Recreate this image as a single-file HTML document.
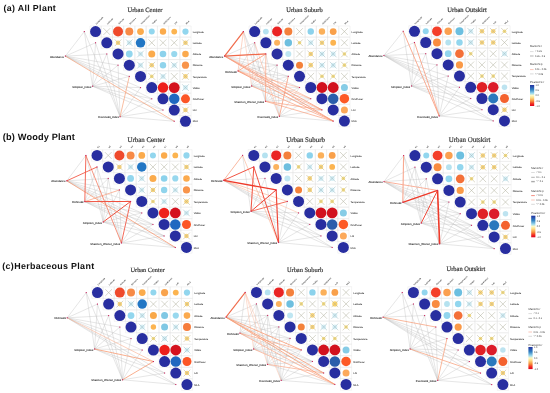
<!DOCTYPE html>
<html><head><meta charset="utf-8"><title>Mantel test correlation heatmaps</title>
<style>
html,body{margin:0;padding:0;background:#fff;}
body{width:550px;height:393px;overflow:hidden;}
svg{display:block;}
text{font-family:"Liberation Sans",Arial,sans-serif;fill:#222;text-rendering:geometricPrecision;}
.nl{font-size:2.8px;text-anchor:end;fill:#222;stroke:#444;stroke-width:0.08px;}
.rl{font-size:2.5px;fill:#333;stroke:#555;stroke-width:0.06px;}
.cl{font-size:2.05px;fill:#505050;font-weight:bold;}
.lg{font-size:2.4px;fill:#444;}
.lgt{font-size:2.8px;fill:#333;}
.tt{font-family:"Liberation Serif","Times New Roman",serif;fill:#333;stroke:#333;stroke-width:0.18px;}
.hd{font-weight:bold;fill:#111;}
</style></head><body>
<svg width="550" height="393" viewBox="0 0 550 393">
<defs><linearGradient id="cb" x1="0" y1="0" x2="0" y2="1">
<stop offset="0" stop-color="#2232a0"/><stop offset="0.22" stop-color="#3282c2"/><stop offset="0.4" stop-color="#9fdcef"/>
<stop offset="0.5" stop-color="#fdf8c4"/><stop offset="0.6" stop-color="#fee08a"/><stop offset="0.76" stop-color="#f8923e"/><stop offset="0.9" stop-color="#f02a20"/><stop offset="1" stop-color="#dc0020"/>
</linearGradient></defs>
<rect width="550" height="393" fill="#fff"/>
<path d="M89.94 25.95h11.24v11.21h-11.24zM101.18 25.95h11.24v11.21h-11.24zM112.42 25.95h11.24v11.21h-11.24zM123.66 25.95h11.24v11.21h-11.24zM134.9 25.95h11.24v11.21h-11.24zM146.14 25.95h11.24v11.21h-11.24zM157.38 25.95h11.24v11.21h-11.24zM168.62 25.95h11.24v11.21h-11.24zM179.86 25.95h11.24v11.21h-11.24zM101.18 37.16h11.24v11.21h-11.24zM112.42 37.16h11.24v11.21h-11.24zM123.66 37.16h11.24v11.21h-11.24zM134.9 37.16h11.24v11.21h-11.24zM146.14 37.16h11.24v11.21h-11.24zM157.38 37.16h11.24v11.21h-11.24zM168.62 37.16h11.24v11.21h-11.24zM179.86 37.16h11.24v11.21h-11.24zM112.42 48.38h11.24v11.21h-11.24zM123.66 48.38h11.24v11.21h-11.24zM134.9 48.38h11.24v11.21h-11.24zM146.14 48.38h11.24v11.21h-11.24zM157.38 48.38h11.24v11.21h-11.24zM168.62 48.38h11.24v11.21h-11.24zM179.86 48.38h11.24v11.21h-11.24zM123.66 59.59h11.24v11.21h-11.24zM134.9 59.59h11.24v11.21h-11.24zM146.14 59.59h11.24v11.21h-11.24zM157.38 59.59h11.24v11.21h-11.24zM168.62 59.59h11.24v11.21h-11.24zM179.86 59.59h11.24v11.21h-11.24zM134.9 70.8h11.24v11.21h-11.24zM146.14 70.8h11.24v11.21h-11.24zM157.38 70.8h11.24v11.21h-11.24zM168.62 70.8h11.24v11.21h-11.24zM179.86 70.8h11.24v11.21h-11.24zM146.14 82h11.24v11.21h-11.24zM157.38 82h11.24v11.21h-11.24zM168.62 82h11.24v11.21h-11.24zM179.86 82h11.24v11.21h-11.24zM157.38 93.22h11.24v11.21h-11.24zM168.62 93.22h11.24v11.21h-11.24zM179.86 93.22h11.24v11.21h-11.24zM168.62 104.42h11.24v11.21h-11.24zM179.86 104.42h11.24v11.21h-11.24zM179.86 115.64h11.24v11.21h-11.24z" fill="none" stroke="#e4e4e4" stroke-width="0.4"/>
<path d="M65.4 56.1L84.32 31.56M65.4 56.1L95.56 42.77M65.4 56.1L106.8 53.98M65.4 56.1L118.04 65.19M65.4 56.1L129.28 76.4M65.4 56.1L140.52 87.61M65.4 56.1L151.76 98.82M65.4 56.1L163 110.03M92.6 86.2L84.32 31.56M92.6 86.2L95.56 42.77M92.6 86.2L106.8 53.98M92.6 86.2L118.04 65.19M92.6 86.2L129.28 76.4M92.6 86.2L140.52 87.61M92.6 86.2L151.76 98.82M92.6 86.2L163 110.03M92.6 86.2L174.24 121.24M120.1 116.7L84.32 31.56M120.1 116.7L95.56 42.77M120.1 116.7L106.8 53.98M120.1 116.7L118.04 65.19M120.1 116.7L140.52 87.61M120.1 116.7L151.76 98.82M120.1 116.7L163 110.03M120.1 116.7L174.24 121.24" stroke="#bfbfbf" stroke-width="0.4" fill="none"/>
<line x1="65.4" y1="56.1" x2="174.24" y2="121.24" stroke="#f7a27a" stroke-width="0.7"/>
<line x1="120.1" y1="116.7" x2="129.28" y2="76.4" stroke="#f7a27a" stroke-width="0.7"/>
<circle cx="95.56" cy="31.56" r="5.5" fill="#282ea0"/>
<path d="M103.45 28.21l6.7 6.7M103.45 34.91l6.7 -6.7" stroke="#b4b4a2" stroke-width="0.55"/>
<circle cx="118.04" cy="31.56" r="5" fill="#ef4a2c"/>
<circle cx="129.28" cy="31.56" r="4" fill="#f78a46"/>
<circle cx="140.52" cy="31.56" r="3.4" fill="#fbab4c"/>
<circle cx="151.76" cy="31.56" r="3" fill="#92d6ee"/>
<circle cx="163" cy="31.56" r="3.2" fill="#fbab4c"/>
<circle cx="174.24" cy="31.56" r="2.9" fill="#fcb450"/>
<circle cx="185.48" cy="31.56" r="3.1" fill="#92d6ee"/>
<circle cx="106.8" cy="42.77" r="5.5" fill="#282ea0"/>
<circle cx="118.04" cy="42.77" r="2.3" fill="#fcd67a"/>
<path d="M114.69 39.42l6.7 6.7M114.69 46.12l6.7 -6.7" stroke="#bdb48e" stroke-width="0.55"/>
<circle cx="129.28" cy="42.77" r="2.5" fill="#d8f0f6"/>
<path d="M125.93 39.42l6.7 6.7M125.93 46.12l6.7 -6.7" stroke="#9dbcc4" stroke-width="0.55"/>
<circle cx="140.52" cy="42.77" r="4.75" fill="#2276c4"/>
<path d="M148.41 39.42l6.7 6.7M148.41 46.12l6.7 -6.7" stroke="#b4b4a2" stroke-width="0.55"/>
<path d="M159.65 39.42l6.7 6.7M159.65 46.12l6.7 -6.7" stroke="#b4b4a2" stroke-width="0.55"/>
<path d="M170.89 39.42l6.7 6.7M170.89 46.12l6.7 -6.7" stroke="#b4b4a2" stroke-width="0.55"/>
<circle cx="185.48" cy="42.77" r="2.3" fill="#fcd67a"/>
<path d="M182.13 39.42l6.7 6.7M182.13 46.12l6.7 -6.7" stroke="#bdb48e" stroke-width="0.55"/>
<circle cx="118.04" cy="53.98" r="5.5" fill="#282ea0"/>
<circle cx="129.28" cy="53.98" r="3.4" fill="#92d6ee"/>
<circle cx="140.52" cy="53.98" r="2.5" fill="#d8f0f6"/>
<path d="M137.17 50.63l6.7 6.7M137.17 57.33l6.7 -6.7" stroke="#9dbcc4" stroke-width="0.55"/>
<circle cx="151.76" cy="53.98" r="3.5" fill="#fbab4c"/>
<circle cx="163" cy="53.98" r="3.3" fill="#8cd2ec"/>
<circle cx="174.24" cy="53.98" r="3.1" fill="#98d8ee"/>
<circle cx="185.48" cy="53.98" r="3.3" fill="#fbaa4e"/>
<circle cx="129.28" cy="65.19" r="5.5" fill="#282ea0"/>
<circle cx="140.52" cy="65.19" r="2.5" fill="#d8f0f6"/>
<path d="M137.17 61.84l6.7 6.7M137.17 68.54l6.7 -6.7" stroke="#9dbcc4" stroke-width="0.55"/>
<circle cx="151.76" cy="65.19" r="2.3" fill="#fcd67a"/>
<path d="M148.41 61.84l6.7 6.7M148.41 68.54l6.7 -6.7" stroke="#bdb48e" stroke-width="0.55"/>
<circle cx="163" cy="65.19" r="3.2" fill="#90d4ec"/>
<circle cx="174.24" cy="65.19" r="2.5" fill="#d8f0f6"/>
<path d="M170.89 61.84l6.7 6.7M170.89 68.54l6.7 -6.7" stroke="#9dbcc4" stroke-width="0.55"/>
<circle cx="185.48" cy="65.19" r="3.6" fill="#f8944a"/>
<circle cx="140.52" cy="76.4" r="5.5" fill="#282ea0"/>
<circle cx="151.76" cy="76.4" r="1.8" fill="#fbe07a"/>
<path d="M148.41 73.05l6.7 6.7M148.41 79.75l6.7 -6.7" stroke="#bdb594" stroke-width="0.55"/>
<circle cx="163" cy="76.4" r="2.5" fill="#d8f0f6"/>
<path d="M159.65 73.05l6.7 6.7M159.65 79.75l6.7 -6.7" stroke="#9dbcc4" stroke-width="0.55"/>
<path d="M170.89 73.05l6.7 6.7M170.89 79.75l6.7 -6.7" stroke="#b4b4a2" stroke-width="0.55"/>
<circle cx="185.48" cy="76.4" r="2.3" fill="#fcd67a"/>
<path d="M182.13 73.05l6.7 6.7M182.13 79.75l6.7 -6.7" stroke="#bdb48e" stroke-width="0.55"/>
<circle cx="151.76" cy="87.61" r="5.5" fill="#282ea0"/>
<circle cx="163" cy="87.61" r="5.25" fill="#ee201c"/>
<circle cx="174.24" cy="87.61" r="5.4" fill="#d4121e"/>
<circle cx="185.48" cy="87.61" r="2.5" fill="#d8f0f6"/>
<path d="M182.13 84.26l6.7 6.7M182.13 90.96l6.7 -6.7" stroke="#9dbcc4" stroke-width="0.55"/>
<circle cx="163" cy="98.82" r="5.5" fill="#282ea0"/>
<circle cx="174.24" cy="98.82" r="5.25" fill="#2068c0"/>
<circle cx="185.48" cy="98.82" r="4.5" fill="#fc5626"/>
<circle cx="174.24" cy="110.03" r="5.5" fill="#282ea0"/>
<circle cx="185.48" cy="110.03" r="2.3" fill="#fcd67a"/>
<path d="M182.13 106.68l6.7 6.7M182.13 113.38l6.7 -6.7" stroke="#bdb48e" stroke-width="0.55"/>
<circle cx="185.48" cy="121.24" r="5.5" fill="#282ea0"/>
<rect x="83.77" y="31.01" width="1.1" height="1.1" fill="#c8245e"/>
<rect x="95.01" y="42.22" width="1.1" height="1.1" fill="#c8245e"/>
<rect x="106.25" y="53.43" width="1.1" height="1.1" fill="#c8245e"/>
<rect x="117.49" y="64.64" width="1.1" height="1.1" fill="#c8245e"/>
<rect x="128.73" y="75.85" width="1.1" height="1.1" fill="#c8245e"/>
<rect x="139.97" y="87.06" width="1.1" height="1.1" fill="#c8245e"/>
<rect x="151.21" y="98.27" width="1.1" height="1.1" fill="#c8245e"/>
<rect x="162.45" y="109.48" width="1.1" height="1.1" fill="#c8245e"/>
<rect x="173.69" y="120.69" width="1.1" height="1.1" fill="#c8245e"/>
<rect x="64.85" y="55.55" width="1.1" height="1.1" fill="#c8245e"/>
<text x="64.1" y="57.6" class="nl">Abundance</text>
<rect x="92.05" y="85.65" width="1.1" height="1.1" fill="#c8245e"/>
<text x="91.3" y="87.7" class="nl">Simpson_index</text>
<rect x="119.55" y="116.15" width="1.1" height="1.1" fill="#c8245e"/>
<text x="118.8" y="118.2" class="nl">Evenness_index</text>
<text x="192.7" y="32.76" class="rl">Longitude</text>
<text x="192.7" y="43.97" class="rl">Latitude</text>
<text x="192.7" y="55.18" class="rl">Altitude</text>
<text x="192.7" y="66.39" class="rl">Distance</text>
<text x="192.7" y="77.6" class="rl">Temperature</text>
<text x="192.7" y="88.81" class="rl">VisBio</text>
<text x="192.7" y="100.02" class="rl">GridCover</text>
<text x="192.7" y="111.23" class="rl">LAI</text>
<text x="192.7" y="122.44" class="rl">MLA</text>
<text transform="translate(96.46 24.55) rotate(-45)" class="cl">Longitude</text>
<text transform="translate(107.7 24.55) rotate(-45)" class="cl">Latitude</text>
<text transform="translate(118.94 24.55) rotate(-45)" class="cl">Altitude</text>
<text transform="translate(130.18 24.55) rotate(-45)" class="cl">Distance</text>
<text transform="translate(141.42 24.55) rotate(-45)" class="cl">Temperature</text>
<text transform="translate(152.66 24.55) rotate(-45)" class="cl">VisBio</text>
<text transform="translate(163.9 24.55) rotate(-45)" class="cl">GridCover</text>
<text transform="translate(175.14 24.55) rotate(-45)" class="cl">LAI</text>
<text transform="translate(186.38 24.55) rotate(-45)" class="cl">MLA</text>
<text x="127.5" y="11.6" class="tt" style="font-size:6.61px" textLength="35" lengthAdjust="spacingAndGlyphs">Urban Center</text>
<path d="M249.04 25.96h11.22v11.19h-11.22zM260.26 25.96h11.22v11.19h-11.22zM271.48 25.96h11.22v11.19h-11.22zM282.7 25.96h11.22v11.19h-11.22zM293.92 25.96h11.22v11.19h-11.22zM305.14 25.96h11.22v11.19h-11.22zM316.36 25.96h11.22v11.19h-11.22zM327.58 25.96h11.22v11.19h-11.22zM338.8 25.96h11.22v11.19h-11.22zM260.26 37.16h11.22v11.19h-11.22zM271.48 37.16h11.22v11.19h-11.22zM282.7 37.16h11.22v11.19h-11.22zM293.92 37.16h11.22v11.19h-11.22zM305.14 37.16h11.22v11.19h-11.22zM316.36 37.16h11.22v11.19h-11.22zM327.58 37.16h11.22v11.19h-11.22zM338.8 37.16h11.22v11.19h-11.22zM271.48 48.34h11.22v11.19h-11.22zM282.7 48.34h11.22v11.19h-11.22zM293.92 48.34h11.22v11.19h-11.22zM305.14 48.34h11.22v11.19h-11.22zM316.36 48.34h11.22v11.19h-11.22zM327.58 48.34h11.22v11.19h-11.22zM338.8 48.34h11.22v11.19h-11.22zM282.7 59.53h11.22v11.19h-11.22zM293.92 59.53h11.22v11.19h-11.22zM305.14 59.53h11.22v11.19h-11.22zM316.36 59.53h11.22v11.19h-11.22zM327.58 59.53h11.22v11.19h-11.22zM338.8 59.53h11.22v11.19h-11.22zM293.92 70.72h11.22v11.19h-11.22zM305.14 70.72h11.22v11.19h-11.22zM316.36 70.72h11.22v11.19h-11.22zM327.58 70.72h11.22v11.19h-11.22zM338.8 70.72h11.22v11.19h-11.22zM305.14 81.91h11.22v11.19h-11.22zM316.36 81.91h11.22v11.19h-11.22zM327.58 81.91h11.22v11.19h-11.22zM338.8 81.91h11.22v11.19h-11.22zM316.36 93.11h11.22v11.19h-11.22zM327.58 93.11h11.22v11.19h-11.22zM338.8 93.11h11.22v11.19h-11.22zM327.58 104.3h11.22v11.19h-11.22zM338.8 104.3h11.22v11.19h-11.22zM338.8 115.48h11.22v11.19h-11.22z" fill="none" stroke="#e4e4e4" stroke-width="0.4"/>
<path d="M224.6 56.1L254.65 42.75M224.6 56.1L277.09 65.13M224.6 56.1L288.31 76.32M224.6 56.1L299.53 87.51M238 71L254.65 42.75M238 71L277.09 65.13M238 71L288.31 76.32M251.6 86L254.65 42.75M251.6 86L265.87 53.94M251.6 86L277.09 65.13M251.6 86L288.31 76.32M251.6 86L299.53 87.51M251.6 86L310.75 98.7M251.6 86L321.97 109.89M265.5 101.3L243.43 31.56M265.5 101.3L254.65 42.75M265.5 101.3L277.09 65.13M265.5 101.3L288.31 76.32M265.5 101.3L299.53 87.51M265.5 101.3L310.75 98.7M279.4 116.3L243.43 31.56M279.4 116.3L265.87 53.94M279.4 116.3L277.09 65.13M279.4 116.3L299.53 87.51M279.4 116.3L310.75 98.7M279.4 116.3L321.97 109.89M279.4 116.3L333.19 121.08" stroke="#bfbfbf" stroke-width="0.4" fill="none"/>
<line x1="251.6" y1="86" x2="243.43" y2="31.56" stroke="#fbc0a8" stroke-width="0.5"/>
<line x1="238" y1="71" x2="299.53" y2="87.51" stroke="#f9a888" stroke-width="0.55"/>
<line x1="238" y1="71" x2="310.75" y2="98.7" stroke="#f9a888" stroke-width="0.55"/>
<line x1="238" y1="71" x2="243.43" y2="31.56" stroke="#fbb9a0" stroke-width="0.6"/>
<line x1="238" y1="71" x2="321.97" y2="109.89" stroke="#f9a080" stroke-width="0.6"/>
<line x1="279.4" y1="116.3" x2="254.65" y2="42.75" stroke="#fbb9a0" stroke-width="0.6"/>
<line x1="224.6" y1="56.1" x2="310.75" y2="98.7" stroke="#f9a888" stroke-width="0.6"/>
<line x1="251.6" y1="86" x2="333.19" y2="121.08" stroke="#f9a080" stroke-width="0.7"/>
<line x1="265.5" y1="101.3" x2="265.87" y2="53.94" stroke="#f9a080" stroke-width="0.7"/>
<line x1="265.5" y1="101.3" x2="321.97" y2="109.89" stroke="#f9a080" stroke-width="0.7"/>
<line x1="265.5" y1="101.3" x2="333.19" y2="121.08" stroke="#f9a080" stroke-width="0.7"/>
<line x1="224.6" y1="56.1" x2="321.97" y2="109.89" stroke="#f7997a" stroke-width="0.8"/>
<line x1="224.6" y1="56.1" x2="333.19" y2="121.08" stroke="#f7997a" stroke-width="0.8"/>
<line x1="238" y1="71" x2="265.87" y2="53.94" stroke="#f79a78" stroke-width="0.8"/>
<line x1="238" y1="71" x2="333.19" y2="121.08" stroke="#f79a78" stroke-width="0.8"/>
<line x1="279.4" y1="116.3" x2="288.31" y2="76.32" stroke="#f7997a" stroke-width="0.8"/>
<line x1="224.6" y1="56.1" x2="243.43" y2="31.56" stroke="#f06a4a" stroke-width="1.2"/>
<line x1="224.6" y1="56.1" x2="265.87" y2="53.94" stroke="#f06a4a" stroke-width="1.2"/>
<circle cx="254.65" cy="31.56" r="5.5" fill="#282ea0"/>
<circle cx="265.87" cy="31.56" r="2.9" fill="#b5e2f0"/>
<circle cx="277.09" cy="31.56" r="5" fill="#ea2424"/>
<circle cx="288.31" cy="31.56" r="4" fill="#f4803c"/>
<path d="M296.18 28.21l6.7 6.7M296.18 34.91l6.7 -6.7" stroke="#b4b4a2" stroke-width="0.55"/>
<circle cx="310.75" cy="31.56" r="3.2" fill="#8cd2ec"/>
<circle cx="321.97" cy="31.56" r="3.2" fill="#fbb05a"/>
<circle cx="333.19" cy="31.56" r="3.4" fill="#f9a04a"/>
<path d="M341.06 28.21l6.7 6.7M341.06 34.91l6.7 -6.7" stroke="#b4b4a2" stroke-width="0.55"/>
<circle cx="265.87" cy="42.75" r="5.5" fill="#282ea0"/>
<circle cx="277.09" cy="42.75" r="3" fill="#fbb35e"/>
<circle cx="288.31" cy="42.75" r="3.75" fill="#6ebfdf"/>
<circle cx="299.53" cy="42.75" r="1.8" fill="#fbe07a"/>
<path d="M296.18 39.4l6.7 6.7M296.18 46.1l6.7 -6.7" stroke="#bdb594" stroke-width="0.55"/>
<circle cx="310.75" cy="42.75" r="2.5" fill="#d8f0f6"/>
<path d="M307.4 39.4l6.7 6.7M307.4 46.1l6.7 -6.7" stroke="#9dbcc4" stroke-width="0.55"/>
<circle cx="321.97" cy="42.75" r="2.3" fill="#fcd67a"/>
<path d="M318.62 39.4l6.7 6.7M318.62 46.1l6.7 -6.7" stroke="#bdb48e" stroke-width="0.55"/>
<circle cx="333.19" cy="42.75" r="2.9" fill="#fcb450"/>
<path d="M341.06 39.4l6.7 6.7M341.06 46.1l6.7 -6.7" stroke="#b4b4a2" stroke-width="0.55"/>
<circle cx="277.09" cy="53.94" r="5.5" fill="#282ea0"/>
<circle cx="288.31" cy="53.94" r="3" fill="#bfe6f2"/>
<path d="M296.18 50.59l6.7 6.7M296.18 57.29l6.7 -6.7" stroke="#b4b4a2" stroke-width="0.55"/>
<circle cx="310.75" cy="53.94" r="2.3" fill="#fcd67a"/>
<path d="M307.4 50.59l6.7 6.7M307.4 57.29l6.7 -6.7" stroke="#bdb48e" stroke-width="0.55"/>
<circle cx="321.97" cy="53.94" r="2.5" fill="#d8f0f6"/>
<path d="M318.62 50.59l6.7 6.7M318.62 57.29l6.7 -6.7" stroke="#9dbcc4" stroke-width="0.55"/>
<circle cx="333.19" cy="53.94" r="2.5" fill="#d8f0f6"/>
<path d="M329.84 50.59l6.7 6.7M329.84 57.29l6.7 -6.7" stroke="#9dbcc4" stroke-width="0.55"/>
<circle cx="344.41" cy="53.94" r="1.8" fill="#fbe07a"/>
<path d="M341.06 50.59l6.7 6.7M341.06 57.29l6.7 -6.7" stroke="#bdb594" stroke-width="0.55"/>
<circle cx="288.31" cy="65.13" r="5.5" fill="#282ea0"/>
<circle cx="299.53" cy="65.13" r="3.5" fill="#f4823a"/>
<circle cx="310.75" cy="65.13" r="2.3" fill="#fcd67a"/>
<path d="M307.4 61.78l6.7 6.7M307.4 68.48l6.7 -6.7" stroke="#bdb48e" stroke-width="0.55"/>
<circle cx="321.97" cy="65.13" r="2.5" fill="#d8f0f6"/>
<path d="M318.62 61.78l6.7 6.7M318.62 68.48l6.7 -6.7" stroke="#9dbcc4" stroke-width="0.55"/>
<circle cx="333.19" cy="65.13" r="2.5" fill="#d8f0f6"/>
<path d="M329.84 61.78l6.7 6.7M329.84 68.48l6.7 -6.7" stroke="#9dbcc4" stroke-width="0.55"/>
<circle cx="344.41" cy="65.13" r="1.8" fill="#fbe07a"/>
<path d="M341.06 61.78l6.7 6.7M341.06 68.48l6.7 -6.7" stroke="#bdb594" stroke-width="0.55"/>
<circle cx="299.53" cy="76.32" r="5.5" fill="#282ea0"/>
<path d="M307.4 72.97l6.7 6.7M307.4 79.67l6.7 -6.7" stroke="#b4b4a2" stroke-width="0.55"/>
<circle cx="321.97" cy="76.32" r="1.8" fill="#fbe07a"/>
<path d="M318.62 72.97l6.7 6.7M318.62 79.67l6.7 -6.7" stroke="#bdb594" stroke-width="0.55"/>
<circle cx="333.19" cy="76.32" r="1.8" fill="#fbe07a"/>
<path d="M329.84 72.97l6.7 6.7M329.84 79.67l6.7 -6.7" stroke="#bdb594" stroke-width="0.55"/>
<path d="M341.06 72.97l6.7 6.7M341.06 79.67l6.7 -6.7" stroke="#b4b4a2" stroke-width="0.55"/>
<circle cx="310.75" cy="87.51" r="5.5" fill="#282ea0"/>
<circle cx="321.97" cy="87.51" r="5.4" fill="#d2121e"/>
<circle cx="333.19" cy="87.51" r="5.4" fill="#d2121e"/>
<circle cx="344.41" cy="87.51" r="3.5" fill="#86cce6"/>
<circle cx="321.97" cy="98.7" r="5.5" fill="#282ea0"/>
<circle cx="333.19" cy="98.7" r="5.25" fill="#2b5eab"/>
<circle cx="344.41" cy="98.7" r="4.75" fill="#fd5a26"/>
<circle cx="333.19" cy="109.89" r="5.5" fill="#282ea0"/>
<circle cx="344.41" cy="109.89" r="3.5" fill="#fca95a"/>
<circle cx="344.41" cy="121.08" r="5.5" fill="#282ea0"/>
<rect x="242.88" y="31.01" width="1.1" height="1.1" fill="#c8245e"/>
<rect x="254.1" y="42.2" width="1.1" height="1.1" fill="#c8245e"/>
<rect x="265.32" y="53.39" width="1.1" height="1.1" fill="#c8245e"/>
<rect x="276.54" y="64.58" width="1.1" height="1.1" fill="#c8245e"/>
<rect x="287.76" y="75.77" width="1.1" height="1.1" fill="#c8245e"/>
<rect x="298.98" y="86.96" width="1.1" height="1.1" fill="#c8245e"/>
<rect x="310.2" y="98.15" width="1.1" height="1.1" fill="#c8245e"/>
<rect x="321.42" y="109.34" width="1.1" height="1.1" fill="#c8245e"/>
<rect x="332.64" y="120.53" width="1.1" height="1.1" fill="#c8245e"/>
<rect x="224.05" y="55.55" width="1.1" height="1.1" fill="#c8245e"/>
<text x="223.3" y="57.6" class="nl">Abundance</text>
<rect x="237.45" y="70.45" width="1.1" height="1.1" fill="#c8245e"/>
<text x="236.7" y="72.5" class="nl">Richness</text>
<rect x="251.05" y="85.45" width="1.1" height="1.1" fill="#c8245e"/>
<text x="250.3" y="87.5" class="nl">Simpson_index</text>
<rect x="264.95" y="100.75" width="1.1" height="1.1" fill="#c8245e"/>
<text x="264.2" y="102.8" class="nl">Shannon_Wiener_index</text>
<rect x="278.85" y="115.75" width="1.1" height="1.1" fill="#c8245e"/>
<text x="278.1" y="117.8" class="nl">Evenness_index</text>
<text x="351.62" y="32.76" class="rl">Longitude</text>
<text x="351.62" y="43.95" class="rl">Latitude</text>
<text x="351.62" y="55.14" class="rl">Altitude</text>
<text x="351.62" y="66.33" class="rl">Distance</text>
<text x="351.62" y="77.52" class="rl">Temperature</text>
<text x="351.62" y="88.71" class="rl">VisBio</text>
<text x="351.62" y="99.9" class="rl">GridCover</text>
<text x="351.62" y="111.09" class="rl">LAI</text>
<text x="351.62" y="122.28" class="rl">MLA</text>
<text transform="translate(255.55 24.57) rotate(-45)" class="cl">Longitude</text>
<text transform="translate(266.77 24.57) rotate(-45)" class="cl">Latitude</text>
<text transform="translate(277.99 24.57) rotate(-45)" class="cl">Altitude</text>
<text transform="translate(289.21 24.57) rotate(-45)" class="cl">Distance</text>
<text transform="translate(300.43 24.57) rotate(-45)" class="cl">Temperature</text>
<text transform="translate(311.65 24.57) rotate(-45)" class="cl">VisBio</text>
<text transform="translate(322.87 24.57) rotate(-45)" class="cl">GridCover</text>
<text transform="translate(334.09 24.57) rotate(-45)" class="cl">LAI</text>
<text transform="translate(345.31 24.57) rotate(-45)" class="cl">MLA</text>
<text x="286.3" y="11.8" class="tt" style="font-size:6.62px" textLength="36.4" lengthAdjust="spacingAndGlyphs">Urban Suburb</text>
<path d="M408.85 25.7h11.25v11.2h-11.25zM420.1 25.7h11.25v11.2h-11.25zM431.35 25.7h11.25v11.2h-11.25zM442.6 25.7h11.25v11.2h-11.25zM453.85 25.7h11.25v11.2h-11.25zM465.1 25.7h11.25v11.2h-11.25zM476.35 25.7h11.25v11.2h-11.25zM487.6 25.7h11.25v11.2h-11.25zM498.85 25.7h11.25v11.2h-11.25zM420.1 36.9h11.25v11.2h-11.25zM431.35 36.9h11.25v11.2h-11.25zM442.6 36.9h11.25v11.2h-11.25zM453.85 36.9h11.25v11.2h-11.25zM465.1 36.9h11.25v11.2h-11.25zM476.35 36.9h11.25v11.2h-11.25zM487.6 36.9h11.25v11.2h-11.25zM498.85 36.9h11.25v11.2h-11.25zM431.35 48.1h11.25v11.2h-11.25zM442.6 48.1h11.25v11.2h-11.25zM453.85 48.1h11.25v11.2h-11.25zM465.1 48.1h11.25v11.2h-11.25zM476.35 48.1h11.25v11.2h-11.25zM487.6 48.1h11.25v11.2h-11.25zM498.85 48.1h11.25v11.2h-11.25zM442.6 59.3h11.25v11.2h-11.25zM453.85 59.3h11.25v11.2h-11.25zM465.1 59.3h11.25v11.2h-11.25zM476.35 59.3h11.25v11.2h-11.25zM487.6 59.3h11.25v11.2h-11.25zM498.85 59.3h11.25v11.2h-11.25zM453.85 70.5h11.25v11.2h-11.25zM465.1 70.5h11.25v11.2h-11.25zM476.35 70.5h11.25v11.2h-11.25zM487.6 70.5h11.25v11.2h-11.25zM498.85 70.5h11.25v11.2h-11.25zM465.1 81.7h11.25v11.2h-11.25zM476.35 81.7h11.25v11.2h-11.25zM487.6 81.7h11.25v11.2h-11.25zM498.85 81.7h11.25v11.2h-11.25zM476.35 92.9h11.25v11.2h-11.25zM487.6 92.9h11.25v11.2h-11.25zM498.85 92.9h11.25v11.2h-11.25zM487.6 104.1h11.25v11.2h-11.25zM498.85 104.1h11.25v11.2h-11.25zM498.85 115.3h11.25v11.2h-11.25z" fill="none" stroke="#e4e4e4" stroke-width="0.4"/>
<path d="M383.9 55.5L403.22 31.3M383.9 55.5L414.47 42.5M383.9 55.5L425.72 53.7M383.9 55.5L436.97 64.9M383.9 55.5L448.22 76.1M383.9 55.5L459.47 87.3M383.9 55.5L470.72 98.5M383.9 55.5L481.97 109.7M383.9 55.5L493.22 120.9M411.5 86L403.22 31.3M411.5 86L414.47 42.5M411.5 86L425.72 53.7M411.5 86L436.97 64.9M411.5 86L448.22 76.1M411.5 86L459.47 87.3M411.5 86L470.72 98.5M411.5 86L481.97 109.7M411.5 86L493.22 120.9M439.2 116L425.72 53.7M439.2 116L436.97 64.9M439.2 116L448.22 76.1M439.2 116L459.47 87.3M439.2 116L470.72 98.5M439.2 116L481.97 109.7M439.2 116L493.22 120.9" stroke="#bfbfbf" stroke-width="0.4" fill="none"/>
<line x1="439.2" y1="116" x2="403.22" y2="31.3" stroke="#f7997a" stroke-width="0.8"/>
<line x1="439.2" y1="116" x2="414.47" y2="42.5" stroke="#f7997a" stroke-width="0.8"/>
<circle cx="414.47" cy="31.3" r="5.5" fill="#282ea0"/>
<circle cx="425.72" cy="31.3" r="3" fill="#92d6ee"/>
<circle cx="436.97" cy="31.3" r="4.9" fill="#f43f2a"/>
<circle cx="448.22" cy="31.3" r="3.75" fill="#fba050"/>
<circle cx="459.47" cy="31.3" r="4" fill="#6cbfe0"/>
<circle cx="470.72" cy="31.3" r="2.5" fill="#d8f0f6"/>
<path d="M467.37 27.95l6.7 6.7M467.37 34.65l6.7 -6.7" stroke="#9dbcc4" stroke-width="0.55"/>
<circle cx="481.97" cy="31.3" r="2.3" fill="#fcd67a"/>
<path d="M478.62 27.95l6.7 6.7M478.62 34.65l6.7 -6.7" stroke="#bdb48e" stroke-width="0.55"/>
<circle cx="493.22" cy="31.3" r="2.3" fill="#fcd67a"/>
<path d="M489.87 27.95l6.7 6.7M489.87 34.65l6.7 -6.7" stroke="#bdb48e" stroke-width="0.55"/>
<circle cx="504.47" cy="31.3" r="1.8" fill="#fbe07a"/>
<path d="M501.12 27.95l6.7 6.7M501.12 34.65l6.7 -6.7" stroke="#bdb594" stroke-width="0.55"/>
<circle cx="425.72" cy="42.5" r="5.5" fill="#282ea0"/>
<circle cx="436.97" cy="42.5" r="4" fill="#f98c40"/>
<circle cx="448.22" cy="42.5" r="2.9" fill="#b5e2ef"/>
<circle cx="459.47" cy="42.5" r="3.25" fill="#92d6ee"/>
<circle cx="470.72" cy="42.5" r="2.5" fill="#d8f0f6"/>
<path d="M467.37 39.15l6.7 6.7M467.37 45.85l6.7 -6.7" stroke="#9dbcc4" stroke-width="0.55"/>
<circle cx="481.97" cy="42.5" r="2.3" fill="#fcd67a"/>
<path d="M478.62 39.15l6.7 6.7M478.62 45.85l6.7 -6.7" stroke="#bdb48e" stroke-width="0.55"/>
<circle cx="493.22" cy="42.5" r="2.3" fill="#fcd67a"/>
<path d="M489.87 39.15l6.7 6.7M489.87 45.85l6.7 -6.7" stroke="#bdb48e" stroke-width="0.55"/>
<path d="M501.12 39.15l6.7 6.7M501.12 45.85l6.7 -6.7" stroke="#b4b4a2" stroke-width="0.55"/>
<circle cx="436.97" cy="53.7" r="5.5" fill="#282ea0"/>
<circle cx="448.22" cy="53.7" r="3.4" fill="#92d6ee"/>
<circle cx="459.47" cy="53.7" r="4.35" fill="#f47038"/>
<circle cx="470.72" cy="53.7" r="1.8" fill="#fbe07a"/>
<path d="M467.37 50.35l6.7 6.7M467.37 57.05l6.7 -6.7" stroke="#bdb594" stroke-width="0.55"/>
<path d="M478.62 50.35l6.7 6.7M478.62 57.05l6.7 -6.7" stroke="#b4b4a2" stroke-width="0.55"/>
<path d="M489.87 50.35l6.7 6.7M489.87 57.05l6.7 -6.7" stroke="#b4b4a2" stroke-width="0.55"/>
<circle cx="504.47" cy="53.7" r="2.5" fill="#d8f0f6"/>
<path d="M501.12 50.35l6.7 6.7M501.12 57.05l6.7 -6.7" stroke="#9dbcc4" stroke-width="0.55"/>
<circle cx="448.22" cy="64.9" r="5.5" fill="#282ea0"/>
<circle cx="459.47" cy="64.9" r="3.6" fill="#fa9a48"/>
<path d="M467.37 61.55l6.7 6.7M467.37 68.25l6.7 -6.7" stroke="#b4b4a2" stroke-width="0.55"/>
<path d="M478.62 61.55l6.7 6.7M478.62 68.25l6.7 -6.7" stroke="#b4b4a2" stroke-width="0.55"/>
<path d="M489.87 61.55l6.7 6.7M489.87 68.25l6.7 -6.7" stroke="#b4b4a2" stroke-width="0.55"/>
<path d="M501.12 61.55l6.7 6.7M501.12 68.25l6.7 -6.7" stroke="#b4b4a2" stroke-width="0.55"/>
<circle cx="459.47" cy="76.1" r="5.5" fill="#282ea0"/>
<path d="M467.37 72.75l6.7 6.7M467.37 79.45l6.7 -6.7" stroke="#b4b4a2" stroke-width="0.55"/>
<circle cx="481.97" cy="76.1" r="1.8" fill="#fbe07a"/>
<path d="M478.62 72.75l6.7 6.7M478.62 79.45l6.7 -6.7" stroke="#bdb594" stroke-width="0.55"/>
<circle cx="493.22" cy="76.1" r="1.8" fill="#fbe07a"/>
<path d="M489.87 72.75l6.7 6.7M489.87 79.45l6.7 -6.7" stroke="#bdb594" stroke-width="0.55"/>
<path d="M501.12 72.75l6.7 6.7M501.12 79.45l6.7 -6.7" stroke="#b4b4a2" stroke-width="0.55"/>
<circle cx="470.72" cy="87.3" r="5.5" fill="#282ea0"/>
<circle cx="481.97" cy="87.3" r="5.25" fill="#e02026"/>
<circle cx="493.22" cy="87.3" r="5.25" fill="#dc1c2a"/>
<circle cx="504.47" cy="87.3" r="2.75" fill="#bde3f0"/>
<circle cx="481.97" cy="98.5" r="5.5" fill="#282ea0"/>
<circle cx="493.22" cy="98.5" r="5" fill="#2a78bd"/>
<circle cx="504.47" cy="98.5" r="4.5" fill="#f4622e"/>
<circle cx="493.22" cy="109.7" r="5.5" fill="#282ea0"/>
<circle cx="504.47" cy="109.7" r="2.3" fill="#fcd67a"/>
<path d="M501.12 106.35l6.7 6.7M501.12 113.05l6.7 -6.7" stroke="#bdb48e" stroke-width="0.55"/>
<circle cx="504.47" cy="120.9" r="5.5" fill="#282ea0"/>
<rect x="402.67" y="30.75" width="1.1" height="1.1" fill="#c8245e"/>
<rect x="413.92" y="41.95" width="1.1" height="1.1" fill="#c8245e"/>
<rect x="425.17" y="53.15" width="1.1" height="1.1" fill="#c8245e"/>
<rect x="436.42" y="64.35" width="1.1" height="1.1" fill="#c8245e"/>
<rect x="447.67" y="75.55" width="1.1" height="1.1" fill="#c8245e"/>
<rect x="458.92" y="86.75" width="1.1" height="1.1" fill="#c8245e"/>
<rect x="470.17" y="97.95" width="1.1" height="1.1" fill="#c8245e"/>
<rect x="481.42" y="109.15" width="1.1" height="1.1" fill="#c8245e"/>
<rect x="492.67" y="120.35" width="1.1" height="1.1" fill="#c8245e"/>
<rect x="383.35" y="54.95" width="1.1" height="1.1" fill="#c8245e"/>
<text x="382.6" y="57" class="nl">Abundance</text>
<rect x="410.95" y="85.45" width="1.1" height="1.1" fill="#c8245e"/>
<text x="410.2" y="87.5" class="nl">Simpson_index</text>
<rect x="438.65" y="115.45" width="1.1" height="1.1" fill="#c8245e"/>
<text x="437.9" y="117.5" class="nl">Evenness_index</text>
<text x="511.7" y="32.5" class="rl">Longitude</text>
<text x="511.7" y="43.7" class="rl">Latitude</text>
<text x="511.7" y="54.9" class="rl">Altitude</text>
<text x="511.7" y="66.1" class="rl">Distance</text>
<text x="511.7" y="77.3" class="rl">Temperature</text>
<text x="511.7" y="88.5" class="rl">VisBio</text>
<text x="511.7" y="99.7" class="rl">GridCover</text>
<text x="511.7" y="110.9" class="rl">LAI</text>
<text x="511.7" y="122.1" class="rl">MLA</text>
<text transform="translate(415.37 24.3) rotate(-45)" class="cl">Longitude</text>
<text transform="translate(426.62 24.3) rotate(-45)" class="cl">Latitude</text>
<text transform="translate(437.87 24.3) rotate(-45)" class="cl">Altitude</text>
<text transform="translate(449.12 24.3) rotate(-45)" class="cl">Distance</text>
<text transform="translate(460.37 24.3) rotate(-45)" class="cl">Temperature</text>
<text transform="translate(471.62 24.3) rotate(-45)" class="cl">VisBio</text>
<text transform="translate(482.87 24.3) rotate(-45)" class="cl">GridCover</text>
<text transform="translate(494.12 24.3) rotate(-45)" class="cl">LAI</text>
<text transform="translate(505.37 24.3) rotate(-45)" class="cl">MLA</text>
<text x="447.2" y="11.6" class="tt" style="font-size:6.86px" textLength="39.7" lengthAdjust="spacingAndGlyphs">Urban Outskirt</text>
<text x="530" y="47.3" class="lgt">Mantel's r</text>
<line x1="530" y1="51.6" x2="533.6" y2="51.6" stroke="#aaa" stroke-width="0.4"/>
<text x="535" y="52.4" class="lg">&lt; 0.25</text>
<line x1="530" y1="56" x2="533.6" y2="56" stroke="#aaa" stroke-width="0.9"/>
<text x="535" y="56.8" class="lg">0.25 - 0.5</text>
<text x="530" y="65.1" class="lgt">Mantel's p</text>
<line x1="530" y1="69.6" x2="533.6" y2="69.6" stroke="#f8b8a8" stroke-width="0.8"/>
<text x="535" y="70.4" class="lg">0.01 - 0.05</text>
<line x1="530" y1="73.9" x2="533.6" y2="73.9" stroke="#d0d0d0" stroke-width="0.8"/>
<text x="535" y="74.7" class="lg">&gt;= 0.05</text>
<text x="530" y="83.4" class="lgt">Pearson's r</text>
<rect x="530" y="85" width="4.2" height="21" fill="url(#cb)"/>
<text x="535.6" y="85.9" class="lg">1.0</text>
<text x="535.6" y="91.15" class="lg">0.5</text>
<text x="535.6" y="96.4" class="lg">0.0</text>
<text x="535.6" y="101.65" class="lg">-0.5</text>
<text x="535.6" y="106.5" class="lg">-1.0</text>
<path d="M91.46 149.72h11.18v11.5h-11.18zM102.64 149.72h11.18v11.5h-11.18zM113.82 149.72h11.18v11.5h-11.18zM125 149.72h11.18v11.5h-11.18zM136.18 149.72h11.18v11.5h-11.18zM147.36 149.72h11.18v11.5h-11.18zM158.54 149.72h11.18v11.5h-11.18zM169.72 149.72h11.18v11.5h-11.18zM180.9 149.72h11.18v11.5h-11.18zM102.64 161.22h11.18v11.5h-11.18zM113.82 161.22h11.18v11.5h-11.18zM125 161.22h11.18v11.5h-11.18zM136.18 161.22h11.18v11.5h-11.18zM147.36 161.22h11.18v11.5h-11.18zM158.54 161.22h11.18v11.5h-11.18zM169.72 161.22h11.18v11.5h-11.18zM180.9 161.22h11.18v11.5h-11.18zM113.82 172.72h11.18v11.5h-11.18zM125 172.72h11.18v11.5h-11.18zM136.18 172.72h11.18v11.5h-11.18zM147.36 172.72h11.18v11.5h-11.18zM158.54 172.72h11.18v11.5h-11.18zM169.72 172.72h11.18v11.5h-11.18zM180.9 172.72h11.18v11.5h-11.18zM125 184.22h11.18v11.5h-11.18zM136.18 184.22h11.18v11.5h-11.18zM147.36 184.22h11.18v11.5h-11.18zM158.54 184.22h11.18v11.5h-11.18zM169.72 184.22h11.18v11.5h-11.18zM180.9 184.22h11.18v11.5h-11.18zM136.18 195.72h11.18v11.5h-11.18zM147.36 195.72h11.18v11.5h-11.18zM158.54 195.72h11.18v11.5h-11.18zM169.72 195.72h11.18v11.5h-11.18zM180.9 195.72h11.18v11.5h-11.18zM147.36 207.22h11.18v11.5h-11.18zM158.54 207.22h11.18v11.5h-11.18zM169.72 207.22h11.18v11.5h-11.18zM180.9 207.22h11.18v11.5h-11.18zM158.54 218.72h11.18v11.5h-11.18zM169.72 218.72h11.18v11.5h-11.18zM180.9 218.72h11.18v11.5h-11.18zM169.72 230.22h11.18v11.5h-11.18zM180.9 230.22h11.18v11.5h-11.18zM180.9 241.72h11.18v11.5h-11.18z" fill="none" stroke="#e4e4e4" stroke-width="0.4"/>
<path d="M66.8 180.8L85.87 155.47M66.8 180.8L108.23 178.47M66.8 180.8L119.41 189.97M66.8 180.8L130.59 201.47M66.8 180.8L141.77 212.97M66.8 180.8L152.95 224.47M66.8 180.8L164.13 235.97M84.8 201.6L97.05 166.97M84.8 201.6L108.23 178.47M84.8 201.6L141.77 212.97M84.8 201.6L152.95 224.47M84.8 201.6L164.13 235.97M84.8 201.6L175.31 247.47M103.2 222L85.87 155.47M103.2 222L97.05 166.97M103.2 222L108.23 178.47M103.2 222L119.41 189.97M103.2 222L141.77 212.97M103.2 222L152.95 224.47M103.2 222L164.13 235.97M103.2 222L175.31 247.47M121.4 243L97.05 166.97M121.4 243L108.23 178.47M121.4 243L119.41 189.97M121.4 243L141.77 212.97M121.4 243L152.95 224.47M121.4 243L164.13 235.97M121.4 243L175.31 247.47" stroke="#bfbfbf" stroke-width="0.4" fill="none"/>
<line x1="84.8" y1="201.6" x2="119.41" y2="189.97" stroke="#f8a080" stroke-width="0.75"/>
<line x1="66.8" y1="180.8" x2="175.31" y2="247.47" stroke="#f7946c" stroke-width="0.75"/>
<line x1="121.4" y1="243" x2="85.87" y2="155.47" stroke="#f47a60" stroke-width="0.8"/>
<line x1="66.8" y1="180.8" x2="97.05" y2="166.97" stroke="#f25a48" stroke-width="0.9"/>
<line x1="84.8" y1="201.6" x2="85.87" y2="155.47" stroke="#f25a48" stroke-width="0.9"/>
<line x1="121.4" y1="243" x2="130.59" y2="201.47" stroke="#f25a48" stroke-width="0.9"/>
<line x1="84.8" y1="201.6" x2="130.59" y2="201.47" stroke="#f0503e" stroke-width="1"/>
<line x1="103.2" y1="222" x2="130.59" y2="201.47" stroke="#f0503e" stroke-width="1"/>
<circle cx="97.05" cy="155.47" r="5.5" fill="#282ea0"/>
<path d="M104.88 152.12l6.7 6.7M104.88 158.82l6.7 -6.7" stroke="#b4b4a2" stroke-width="0.55"/>
<circle cx="119.41" cy="155.47" r="5" fill="#ef4a2c"/>
<circle cx="130.59" cy="155.47" r="4" fill="#f78a46"/>
<circle cx="141.77" cy="155.47" r="3.4" fill="#fbab4c"/>
<circle cx="152.95" cy="155.47" r="3" fill="#92d6ee"/>
<circle cx="164.13" cy="155.47" r="3.2" fill="#fbab4c"/>
<circle cx="175.31" cy="155.47" r="2.9" fill="#fcb450"/>
<circle cx="186.49" cy="155.47" r="3.1" fill="#92d6ee"/>
<circle cx="108.23" cy="166.97" r="5.5" fill="#282ea0"/>
<circle cx="119.41" cy="166.97" r="2.3" fill="#fcd67a"/>
<path d="M116.06 163.62l6.7 6.7M116.06 170.32l6.7 -6.7" stroke="#bdb48e" stroke-width="0.55"/>
<circle cx="130.59" cy="166.97" r="2.5" fill="#d8f0f6"/>
<path d="M127.24 163.62l6.7 6.7M127.24 170.32l6.7 -6.7" stroke="#9dbcc4" stroke-width="0.55"/>
<circle cx="141.77" cy="166.97" r="4.75" fill="#2276c4"/>
<path d="M149.6 163.62l6.7 6.7M149.6 170.32l6.7 -6.7" stroke="#b4b4a2" stroke-width="0.55"/>
<path d="M160.78 163.62l6.7 6.7M160.78 170.32l6.7 -6.7" stroke="#b4b4a2" stroke-width="0.55"/>
<path d="M171.96 163.62l6.7 6.7M171.96 170.32l6.7 -6.7" stroke="#b4b4a2" stroke-width="0.55"/>
<circle cx="186.49" cy="166.97" r="2.3" fill="#fcd67a"/>
<path d="M183.14 163.62l6.7 6.7M183.14 170.32l6.7 -6.7" stroke="#bdb48e" stroke-width="0.55"/>
<circle cx="119.41" cy="178.47" r="5.5" fill="#282ea0"/>
<circle cx="130.59" cy="178.47" r="3.4" fill="#92d6ee"/>
<circle cx="141.77" cy="178.47" r="2.5" fill="#d8f0f6"/>
<path d="M138.42 175.12l6.7 6.7M138.42 181.82l6.7 -6.7" stroke="#9dbcc4" stroke-width="0.55"/>
<circle cx="152.95" cy="178.47" r="3.5" fill="#fbab4c"/>
<circle cx="164.13" cy="178.47" r="3.3" fill="#8cd2ec"/>
<circle cx="175.31" cy="178.47" r="3.1" fill="#98d8ee"/>
<circle cx="186.49" cy="178.47" r="3.3" fill="#fbaa4e"/>
<circle cx="130.59" cy="189.97" r="5.5" fill="#282ea0"/>
<circle cx="141.77" cy="189.97" r="2.5" fill="#d8f0f6"/>
<path d="M138.42 186.62l6.7 6.7M138.42 193.32l6.7 -6.7" stroke="#9dbcc4" stroke-width="0.55"/>
<circle cx="152.95" cy="189.97" r="2.3" fill="#fcd67a"/>
<path d="M149.6 186.62l6.7 6.7M149.6 193.32l6.7 -6.7" stroke="#bdb48e" stroke-width="0.55"/>
<circle cx="164.13" cy="189.97" r="3.2" fill="#90d4ec"/>
<circle cx="175.31" cy="189.97" r="2.5" fill="#d8f0f6"/>
<path d="M171.96 186.62l6.7 6.7M171.96 193.32l6.7 -6.7" stroke="#9dbcc4" stroke-width="0.55"/>
<circle cx="186.49" cy="189.97" r="3.6" fill="#f8944a"/>
<circle cx="141.77" cy="201.47" r="5.5" fill="#282ea0"/>
<circle cx="152.95" cy="201.47" r="1.8" fill="#fbe07a"/>
<path d="M149.6 198.12l6.7 6.7M149.6 204.82l6.7 -6.7" stroke="#bdb594" stroke-width="0.55"/>
<circle cx="164.13" cy="201.47" r="2.5" fill="#d8f0f6"/>
<path d="M160.78 198.12l6.7 6.7M160.78 204.82l6.7 -6.7" stroke="#9dbcc4" stroke-width="0.55"/>
<path d="M171.96 198.12l6.7 6.7M171.96 204.82l6.7 -6.7" stroke="#b4b4a2" stroke-width="0.55"/>
<circle cx="186.49" cy="201.47" r="2.3" fill="#fcd67a"/>
<path d="M183.14 198.12l6.7 6.7M183.14 204.82l6.7 -6.7" stroke="#bdb48e" stroke-width="0.55"/>
<circle cx="152.95" cy="212.97" r="5.5" fill="#282ea0"/>
<circle cx="164.13" cy="212.97" r="5.25" fill="#ee201c"/>
<circle cx="175.31" cy="212.97" r="5.4" fill="#d4121e"/>
<circle cx="186.49" cy="212.97" r="2.5" fill="#d8f0f6"/>
<path d="M183.14 209.62l6.7 6.7M183.14 216.32l6.7 -6.7" stroke="#9dbcc4" stroke-width="0.55"/>
<circle cx="164.13" cy="224.47" r="5.5" fill="#282ea0"/>
<circle cx="175.31" cy="224.47" r="5.25" fill="#2068c0"/>
<circle cx="186.49" cy="224.47" r="4.5" fill="#fc5626"/>
<circle cx="175.31" cy="235.97" r="5.5" fill="#282ea0"/>
<circle cx="186.49" cy="235.97" r="2.3" fill="#fcd67a"/>
<path d="M183.14 232.62l6.7 6.7M183.14 239.32l6.7 -6.7" stroke="#bdb48e" stroke-width="0.55"/>
<circle cx="186.49" cy="247.47" r="5.5" fill="#282ea0"/>
<rect x="85.32" y="154.92" width="1.1" height="1.1" fill="#c8245e"/>
<rect x="96.5" y="166.42" width="1.1" height="1.1" fill="#c8245e"/>
<rect x="107.68" y="177.92" width="1.1" height="1.1" fill="#c8245e"/>
<rect x="118.86" y="189.42" width="1.1" height="1.1" fill="#c8245e"/>
<rect x="130.04" y="200.92" width="1.1" height="1.1" fill="#c8245e"/>
<rect x="141.22" y="212.42" width="1.1" height="1.1" fill="#c8245e"/>
<rect x="152.4" y="223.92" width="1.1" height="1.1" fill="#c8245e"/>
<rect x="163.58" y="235.42" width="1.1" height="1.1" fill="#c8245e"/>
<rect x="174.76" y="246.92" width="1.1" height="1.1" fill="#c8245e"/>
<rect x="66.25" y="180.25" width="1.1" height="1.1" fill="#c8245e"/>
<text x="65.5" y="182.3" class="nl">Abundance</text>
<rect x="84.25" y="201.05" width="1.1" height="1.1" fill="#c8245e"/>
<text x="83.5" y="203.1" class="nl">Richness</text>
<rect x="102.65" y="221.45" width="1.1" height="1.1" fill="#c8245e"/>
<text x="101.9" y="223.5" class="nl">Simpson_index</text>
<rect x="120.85" y="242.45" width="1.1" height="1.1" fill="#c8245e"/>
<text x="120.1" y="244.5" class="nl">Shannon_Wiener_index</text>
<text x="193.68" y="156.67" class="rl">Longitude</text>
<text x="193.68" y="168.17" class="rl">Latitude</text>
<text x="193.68" y="179.67" class="rl">Altitude</text>
<text x="193.68" y="191.17" class="rl">Distance</text>
<text x="193.68" y="202.67" class="rl">Temperature</text>
<text x="193.68" y="214.17" class="rl">VisBio</text>
<text x="193.68" y="225.67" class="rl">GridCover</text>
<text x="193.68" y="237.17" class="rl">LAI</text>
<text x="193.68" y="248.67" class="rl">MLA</text>
<text transform="translate(97.95 148.32) rotate(-45)" class="cl">X1</text>
<text transform="translate(109.13 148.32) rotate(-45)" class="cl">X2</text>
<text transform="translate(120.31 148.32) rotate(-45)" class="cl">X3</text>
<text transform="translate(131.49 148.32) rotate(-45)" class="cl">X4</text>
<text transform="translate(142.67 148.32) rotate(-45)" class="cl">X5</text>
<text transform="translate(153.85 148.32) rotate(-45)" class="cl">X6</text>
<text transform="translate(165.03 148.32) rotate(-45)" class="cl">X7</text>
<text transform="translate(176.21 148.32) rotate(-45)" class="cl">X8</text>
<text transform="translate(187.39 148.32) rotate(-45)" class="cl">X9</text>
<text x="127.5" y="142.4" class="tt" style="font-size:7.02px" textLength="37.2" lengthAdjust="spacingAndGlyphs">Urban Center</text>
<path d="M248.17 149.62h11.2v11.51h-11.2zM259.37 149.62h11.2v11.51h-11.2zM270.57 149.62h11.2v11.51h-11.2zM281.77 149.62h11.2v11.51h-11.2zM292.97 149.62h11.2v11.51h-11.2zM304.17 149.62h11.2v11.51h-11.2zM315.37 149.62h11.2v11.51h-11.2zM326.57 149.62h11.2v11.51h-11.2zM337.77 149.62h11.2v11.51h-11.2zM259.37 161.13h11.2v11.51h-11.2zM270.57 161.13h11.2v11.51h-11.2zM281.77 161.13h11.2v11.51h-11.2zM292.97 161.13h11.2v11.51h-11.2zM304.17 161.13h11.2v11.51h-11.2zM315.37 161.13h11.2v11.51h-11.2zM326.57 161.13h11.2v11.51h-11.2zM337.77 161.13h11.2v11.51h-11.2zM270.57 172.65h11.2v11.51h-11.2zM281.77 172.65h11.2v11.51h-11.2zM292.97 172.65h11.2v11.51h-11.2zM304.17 172.65h11.2v11.51h-11.2zM315.37 172.65h11.2v11.51h-11.2zM326.57 172.65h11.2v11.51h-11.2zM337.77 172.65h11.2v11.51h-11.2zM281.77 184.16h11.2v11.51h-11.2zM292.97 184.16h11.2v11.51h-11.2zM304.17 184.16h11.2v11.51h-11.2zM315.37 184.16h11.2v11.51h-11.2zM326.57 184.16h11.2v11.51h-11.2zM337.77 184.16h11.2v11.51h-11.2zM292.97 195.66h11.2v11.51h-11.2zM304.17 195.66h11.2v11.51h-11.2zM315.37 195.66h11.2v11.51h-11.2zM326.57 195.66h11.2v11.51h-11.2zM337.77 195.66h11.2v11.51h-11.2zM304.17 207.18h11.2v11.51h-11.2zM315.37 207.18h11.2v11.51h-11.2zM326.57 207.18h11.2v11.51h-11.2zM337.77 207.18h11.2v11.51h-11.2zM315.37 218.69h11.2v11.51h-11.2zM326.57 218.69h11.2v11.51h-11.2zM337.77 218.69h11.2v11.51h-11.2zM326.57 230.19h11.2v11.51h-11.2zM337.77 230.19h11.2v11.51h-11.2zM337.77 241.7h11.2v11.51h-11.2z" fill="none" stroke="#e4e4e4" stroke-width="0.4"/>
<path d="M223.7 180.3L264.97 178.4M223.7 180.3L309.77 224.44M223.7 180.3L320.97 235.95M223.7 180.3L332.17 247.46M251 211.3L242.57 155.38M251 211.3L264.97 178.4M251 211.3L298.57 212.93M251 211.3L309.77 224.44M251 211.3L320.97 235.95M251 211.3L332.17 247.46M278.5 242.5L264.97 178.4M278.5 242.5L287.37 201.42M278.5 242.5L298.57 212.93M278.5 242.5L309.77 224.44M278.5 242.5L320.97 235.95M278.5 242.5L332.17 247.46" stroke="#bfbfbf" stroke-width="0.4" fill="none"/>
<line x1="223.7" y1="180.3" x2="298.57" y2="212.93" stroke="#fbbca0" stroke-width="0.55"/>
<line x1="223.7" y1="180.3" x2="287.37" y2="201.42" stroke="#f9b090" stroke-width="0.6"/>
<line x1="278.5" y1="242.5" x2="242.57" y2="155.38" stroke="#f9b090" stroke-width="0.6"/>
<line x1="223.7" y1="180.3" x2="242.57" y2="155.38" stroke="#f7a080" stroke-width="0.75"/>
<line x1="251" y1="211.3" x2="287.37" y2="201.42" stroke="#f25a44" stroke-width="0.85"/>
<line x1="223.7" y1="180.3" x2="253.77" y2="166.89" stroke="#f04a38" stroke-width="0.95"/>
<line x1="251" y1="211.3" x2="253.77" y2="166.89" stroke="#f04a38" stroke-width="0.95"/>
<line x1="278.5" y1="242.5" x2="253.77" y2="166.89" stroke="#f04a38" stroke-width="0.95"/>
<line x1="251" y1="211.3" x2="276.17" y2="189.91" stroke="#f04434" stroke-width="1"/>
<line x1="278.5" y1="242.5" x2="276.17" y2="189.91" stroke="#f04434" stroke-width="1.15"/>
<line x1="223.7" y1="180.3" x2="276.17" y2="189.91" stroke="#ee3a2a" stroke-width="1.35"/>
<circle cx="253.77" cy="155.38" r="5.5" fill="#282ea0"/>
<circle cx="264.97" cy="155.38" r="2.9" fill="#b5e2f0"/>
<circle cx="276.17" cy="155.38" r="5" fill="#ea2424"/>
<circle cx="287.37" cy="155.38" r="4" fill="#f4803c"/>
<path d="M295.22 152.03l6.7 6.7M295.22 158.73l6.7 -6.7" stroke="#b4b4a2" stroke-width="0.55"/>
<circle cx="309.77" cy="155.38" r="3.2" fill="#8cd2ec"/>
<circle cx="320.97" cy="155.38" r="3.2" fill="#fbb05a"/>
<circle cx="332.17" cy="155.38" r="3.4" fill="#f9a04a"/>
<path d="M340.02 152.03l6.7 6.7M340.02 158.73l6.7 -6.7" stroke="#b4b4a2" stroke-width="0.55"/>
<circle cx="264.97" cy="166.89" r="5.5" fill="#282ea0"/>
<circle cx="276.17" cy="166.89" r="3" fill="#fbb35e"/>
<circle cx="287.37" cy="166.89" r="3.75" fill="#6ebfdf"/>
<circle cx="298.57" cy="166.89" r="1.8" fill="#fbe07a"/>
<path d="M295.22 163.54l6.7 6.7M295.22 170.24l6.7 -6.7" stroke="#bdb594" stroke-width="0.55"/>
<circle cx="309.77" cy="166.89" r="2.5" fill="#d8f0f6"/>
<path d="M306.42 163.54l6.7 6.7M306.42 170.24l6.7 -6.7" stroke="#9dbcc4" stroke-width="0.55"/>
<circle cx="320.97" cy="166.89" r="2.3" fill="#fcd67a"/>
<path d="M317.62 163.54l6.7 6.7M317.62 170.24l6.7 -6.7" stroke="#bdb48e" stroke-width="0.55"/>
<circle cx="332.17" cy="166.89" r="2.9" fill="#fcb450"/>
<path d="M340.02 163.54l6.7 6.7M340.02 170.24l6.7 -6.7" stroke="#b4b4a2" stroke-width="0.55"/>
<circle cx="276.17" cy="178.4" r="5.5" fill="#282ea0"/>
<circle cx="287.37" cy="178.4" r="3" fill="#bfe6f2"/>
<path d="M295.22 175.05l6.7 6.7M295.22 181.75l6.7 -6.7" stroke="#b4b4a2" stroke-width="0.55"/>
<circle cx="309.77" cy="178.4" r="2.3" fill="#fcd67a"/>
<path d="M306.42 175.05l6.7 6.7M306.42 181.75l6.7 -6.7" stroke="#bdb48e" stroke-width="0.55"/>
<circle cx="320.97" cy="178.4" r="2.5" fill="#d8f0f6"/>
<path d="M317.62 175.05l6.7 6.7M317.62 181.75l6.7 -6.7" stroke="#9dbcc4" stroke-width="0.55"/>
<circle cx="332.17" cy="178.4" r="2.5" fill="#d8f0f6"/>
<path d="M328.82 175.05l6.7 6.7M328.82 181.75l6.7 -6.7" stroke="#9dbcc4" stroke-width="0.55"/>
<circle cx="343.37" cy="178.4" r="1.8" fill="#fbe07a"/>
<path d="M340.02 175.05l6.7 6.7M340.02 181.75l6.7 -6.7" stroke="#bdb594" stroke-width="0.55"/>
<circle cx="287.37" cy="189.91" r="5.5" fill="#282ea0"/>
<circle cx="298.57" cy="189.91" r="3.5" fill="#f4823a"/>
<circle cx="309.77" cy="189.91" r="2.3" fill="#fcd67a"/>
<path d="M306.42 186.56l6.7 6.7M306.42 193.26l6.7 -6.7" stroke="#bdb48e" stroke-width="0.55"/>
<circle cx="320.97" cy="189.91" r="2.5" fill="#d8f0f6"/>
<path d="M317.62 186.56l6.7 6.7M317.62 193.26l6.7 -6.7" stroke="#9dbcc4" stroke-width="0.55"/>
<circle cx="332.17" cy="189.91" r="2.5" fill="#d8f0f6"/>
<path d="M328.82 186.56l6.7 6.7M328.82 193.26l6.7 -6.7" stroke="#9dbcc4" stroke-width="0.55"/>
<circle cx="343.37" cy="189.91" r="1.8" fill="#fbe07a"/>
<path d="M340.02 186.56l6.7 6.7M340.02 193.26l6.7 -6.7" stroke="#bdb594" stroke-width="0.55"/>
<circle cx="298.57" cy="201.42" r="5.5" fill="#282ea0"/>
<path d="M306.42 198.07l6.7 6.7M306.42 204.77l6.7 -6.7" stroke="#b4b4a2" stroke-width="0.55"/>
<circle cx="320.97" cy="201.42" r="1.8" fill="#fbe07a"/>
<path d="M317.62 198.07l6.7 6.7M317.62 204.77l6.7 -6.7" stroke="#bdb594" stroke-width="0.55"/>
<circle cx="332.17" cy="201.42" r="1.8" fill="#fbe07a"/>
<path d="M328.82 198.07l6.7 6.7M328.82 204.77l6.7 -6.7" stroke="#bdb594" stroke-width="0.55"/>
<path d="M340.02 198.07l6.7 6.7M340.02 204.77l6.7 -6.7" stroke="#b4b4a2" stroke-width="0.55"/>
<circle cx="309.77" cy="212.93" r="5.5" fill="#282ea0"/>
<circle cx="320.97" cy="212.93" r="5.4" fill="#d2121e"/>
<circle cx="332.17" cy="212.93" r="5.4" fill="#d2121e"/>
<circle cx="343.37" cy="212.93" r="3.5" fill="#86cce6"/>
<circle cx="320.97" cy="224.44" r="5.5" fill="#282ea0"/>
<circle cx="332.17" cy="224.44" r="5.25" fill="#2b5eab"/>
<circle cx="343.37" cy="224.44" r="4.75" fill="#fd5a26"/>
<circle cx="332.17" cy="235.95" r="5.5" fill="#282ea0"/>
<circle cx="343.37" cy="235.95" r="3.5" fill="#fca95a"/>
<circle cx="343.37" cy="247.46" r="5.5" fill="#282ea0"/>
<rect x="242.02" y="154.83" width="1.1" height="1.1" fill="#c8245e"/>
<rect x="253.22" y="166.34" width="1.1" height="1.1" fill="#c8245e"/>
<rect x="264.42" y="177.85" width="1.1" height="1.1" fill="#c8245e"/>
<rect x="275.62" y="189.36" width="1.1" height="1.1" fill="#c8245e"/>
<rect x="286.82" y="200.87" width="1.1" height="1.1" fill="#c8245e"/>
<rect x="298.02" y="212.38" width="1.1" height="1.1" fill="#c8245e"/>
<rect x="309.22" y="223.89" width="1.1" height="1.1" fill="#c8245e"/>
<rect x="320.42" y="235.4" width="1.1" height="1.1" fill="#c8245e"/>
<rect x="331.62" y="246.91" width="1.1" height="1.1" fill="#c8245e"/>
<rect x="223.15" y="179.75" width="1.1" height="1.1" fill="#c8245e"/>
<text x="222.4" y="181.8" class="nl">Richness</text>
<rect x="250.45" y="210.75" width="1.1" height="1.1" fill="#c8245e"/>
<text x="249.7" y="212.8" class="nl">Simpson_index</text>
<rect x="277.95" y="241.95" width="1.1" height="1.1" fill="#c8245e"/>
<text x="277.2" y="244" class="nl">Shannon_Wiener_index</text>
<text x="350.57" y="156.58" class="rl">Longitude</text>
<text x="350.57" y="168.09" class="rl">Latitude</text>
<text x="350.57" y="179.6" class="rl">Altitude</text>
<text x="350.57" y="191.11" class="rl">Distance</text>
<text x="350.57" y="202.62" class="rl">Temperature</text>
<text x="350.57" y="214.13" class="rl">VisBio</text>
<text x="350.57" y="225.64" class="rl">GridCover</text>
<text x="350.57" y="237.15" class="rl">LAI</text>
<text x="350.57" y="248.66" class="rl">MLA</text>
<text transform="translate(254.67 148.22) rotate(-45)" class="cl">X1</text>
<text transform="translate(265.87 148.22) rotate(-45)" class="cl">X2</text>
<text transform="translate(277.07 148.22) rotate(-45)" class="cl">X3</text>
<text transform="translate(288.27 148.22) rotate(-45)" class="cl">X4</text>
<text transform="translate(299.47 148.22) rotate(-45)" class="cl">X5</text>
<text transform="translate(310.67 148.22) rotate(-45)" class="cl">X6</text>
<text transform="translate(321.87 148.22) rotate(-45)" class="cl">X7</text>
<text transform="translate(333.07 148.22) rotate(-45)" class="cl">X8</text>
<text transform="translate(344.27 148.22) rotate(-45)" class="cl">X9</text>
<text x="286.2" y="142.2" class="tt" style="font-size:7.06px" textLength="38.8" lengthAdjust="spacingAndGlyphs">Urban Suburb</text>
<path d="M409.27 149.75h11.32v11.63h-11.32zM420.59 149.75h11.32v11.63h-11.32zM431.91 149.75h11.32v11.63h-11.32zM443.23 149.75h11.32v11.63h-11.32zM454.55 149.75h11.32v11.63h-11.32zM465.87 149.75h11.32v11.63h-11.32zM477.19 149.75h11.32v11.63h-11.32zM488.51 149.75h11.32v11.63h-11.32zM499.83 149.75h11.32v11.63h-11.32zM420.59 161.38h11.32v11.63h-11.32zM431.91 161.38h11.32v11.63h-11.32zM443.23 161.38h11.32v11.63h-11.32zM454.55 161.38h11.32v11.63h-11.32zM465.87 161.38h11.32v11.63h-11.32zM477.19 161.38h11.32v11.63h-11.32zM488.51 161.38h11.32v11.63h-11.32zM499.83 161.38h11.32v11.63h-11.32zM431.91 173h11.32v11.63h-11.32zM443.23 173h11.32v11.63h-11.32zM454.55 173h11.32v11.63h-11.32zM465.87 173h11.32v11.63h-11.32zM477.19 173h11.32v11.63h-11.32zM488.51 173h11.32v11.63h-11.32zM499.83 173h11.32v11.63h-11.32zM443.23 184.63h11.32v11.63h-11.32zM454.55 184.63h11.32v11.63h-11.32zM465.87 184.63h11.32v11.63h-11.32zM477.19 184.63h11.32v11.63h-11.32zM488.51 184.63h11.32v11.63h-11.32zM499.83 184.63h11.32v11.63h-11.32zM454.55 196.27h11.32v11.63h-11.32zM465.87 196.27h11.32v11.63h-11.32zM477.19 196.27h11.32v11.63h-11.32zM488.51 196.27h11.32v11.63h-11.32zM499.83 196.27h11.32v11.63h-11.32zM465.87 207.9h11.32v11.63h-11.32zM477.19 207.9h11.32v11.63h-11.32zM488.51 207.9h11.32v11.63h-11.32zM499.83 207.9h11.32v11.63h-11.32zM477.19 219.53h11.32v11.63h-11.32zM488.51 219.53h11.32v11.63h-11.32zM499.83 219.53h11.32v11.63h-11.32zM488.51 231.16h11.32v11.63h-11.32zM499.83 231.16h11.32v11.63h-11.32zM499.83 242.79h11.32v11.63h-11.32z" fill="none" stroke="#e4e4e4" stroke-width="0.4"/>
<path d="M384 181.6L403.61 155.56M384 181.6L414.93 167.19M384 181.6L426.25 178.82M384 181.6L448.89 202.08M384 181.6L460.21 213.71M384 181.6L471.53 225.34M384 181.6L482.85 236.97M384 181.6L494.17 248.6M402.8 202.3L414.93 167.19M402.8 202.3L426.25 178.82M402.8 202.3L448.89 202.08M402.8 202.3L460.21 213.71M402.8 202.3L471.53 225.34M402.8 202.3L482.85 236.97M402.8 202.3L494.17 248.6M421.2 223.1L403.61 155.56M421.2 223.1L414.93 167.19M421.2 223.1L426.25 178.82M421.2 223.1L448.89 202.08M421.2 223.1L460.21 213.71M421.2 223.1L471.53 225.34M421.2 223.1L482.85 236.97M421.2 223.1L494.17 248.6M439.6 243.9L403.61 155.56M439.6 243.9L414.93 167.19M439.6 243.9L426.25 178.82M439.6 243.9L448.89 202.08M439.6 243.9L460.21 213.71M439.6 243.9L471.53 225.34M439.6 243.9L482.85 236.97M439.6 243.9L494.17 248.6" stroke="#bfbfbf" stroke-width="0.4" fill="none"/>
<line x1="384" y1="181.6" x2="437.57" y2="190.45" stroke="#f8a890" stroke-width="0.9"/>
<line x1="421.2" y1="223.1" x2="437.57" y2="190.45" stroke="#f04434" stroke-width="0.95"/>
<line x1="402.8" y1="202.3" x2="403.61" y2="155.56" stroke="#f8a890" stroke-width="1.1"/>
<line x1="402.8" y1="202.3" x2="437.57" y2="190.45" stroke="#ee3a2a" stroke-width="1.35"/>
<line x1="439.6" y1="243.9" x2="437.57" y2="190.45" stroke="#ee3a2a" stroke-width="1.6"/>
<circle cx="414.93" cy="155.56" r="5.5" fill="#282ea0"/>
<circle cx="426.25" cy="155.56" r="3" fill="#92d6ee"/>
<circle cx="437.57" cy="155.56" r="4.9" fill="#f43f2a"/>
<circle cx="448.89" cy="155.56" r="3.75" fill="#fba050"/>
<circle cx="460.21" cy="155.56" r="4" fill="#6cbfe0"/>
<circle cx="471.53" cy="155.56" r="2.5" fill="#d8f0f6"/>
<path d="M468.18 152.21l6.7 6.7M468.18 158.91l6.7 -6.7" stroke="#9dbcc4" stroke-width="0.55"/>
<circle cx="482.85" cy="155.56" r="2.3" fill="#fcd67a"/>
<path d="M479.5 152.21l6.7 6.7M479.5 158.91l6.7 -6.7" stroke="#bdb48e" stroke-width="0.55"/>
<circle cx="494.17" cy="155.56" r="2.3" fill="#fcd67a"/>
<path d="M490.82 152.21l6.7 6.7M490.82 158.91l6.7 -6.7" stroke="#bdb48e" stroke-width="0.55"/>
<circle cx="505.49" cy="155.56" r="1.8" fill="#fbe07a"/>
<path d="M502.14 152.21l6.7 6.7M502.14 158.91l6.7 -6.7" stroke="#bdb594" stroke-width="0.55"/>
<circle cx="426.25" cy="167.19" r="5.5" fill="#282ea0"/>
<circle cx="437.57" cy="167.19" r="4" fill="#f98c40"/>
<circle cx="448.89" cy="167.19" r="2.9" fill="#b5e2ef"/>
<circle cx="460.21" cy="167.19" r="3.25" fill="#92d6ee"/>
<circle cx="471.53" cy="167.19" r="2.5" fill="#d8f0f6"/>
<path d="M468.18 163.84l6.7 6.7M468.18 170.54l6.7 -6.7" stroke="#9dbcc4" stroke-width="0.55"/>
<circle cx="482.85" cy="167.19" r="2.3" fill="#fcd67a"/>
<path d="M479.5 163.84l6.7 6.7M479.5 170.54l6.7 -6.7" stroke="#bdb48e" stroke-width="0.55"/>
<circle cx="494.17" cy="167.19" r="2.3" fill="#fcd67a"/>
<path d="M490.82 163.84l6.7 6.7M490.82 170.54l6.7 -6.7" stroke="#bdb48e" stroke-width="0.55"/>
<path d="M502.14 163.84l6.7 6.7M502.14 170.54l6.7 -6.7" stroke="#b4b4a2" stroke-width="0.55"/>
<circle cx="437.57" cy="178.82" r="5.5" fill="#282ea0"/>
<circle cx="448.89" cy="178.82" r="3.4" fill="#92d6ee"/>
<circle cx="460.21" cy="178.82" r="4.35" fill="#f47038"/>
<circle cx="471.53" cy="178.82" r="1.8" fill="#fbe07a"/>
<path d="M468.18 175.47l6.7 6.7M468.18 182.17l6.7 -6.7" stroke="#bdb594" stroke-width="0.55"/>
<path d="M479.5 175.47l6.7 6.7M479.5 182.17l6.7 -6.7" stroke="#b4b4a2" stroke-width="0.55"/>
<path d="M490.82 175.47l6.7 6.7M490.82 182.17l6.7 -6.7" stroke="#b4b4a2" stroke-width="0.55"/>
<circle cx="505.49" cy="178.82" r="2.5" fill="#d8f0f6"/>
<path d="M502.14 175.47l6.7 6.7M502.14 182.17l6.7 -6.7" stroke="#9dbcc4" stroke-width="0.55"/>
<circle cx="448.89" cy="190.45" r="5.5" fill="#282ea0"/>
<circle cx="460.21" cy="190.45" r="3.6" fill="#fa9a48"/>
<path d="M468.18 187.1l6.7 6.7M468.18 193.8l6.7 -6.7" stroke="#b4b4a2" stroke-width="0.55"/>
<path d="M479.5 187.1l6.7 6.7M479.5 193.8l6.7 -6.7" stroke="#b4b4a2" stroke-width="0.55"/>
<path d="M490.82 187.1l6.7 6.7M490.82 193.8l6.7 -6.7" stroke="#b4b4a2" stroke-width="0.55"/>
<path d="M502.14 187.1l6.7 6.7M502.14 193.8l6.7 -6.7" stroke="#b4b4a2" stroke-width="0.55"/>
<circle cx="460.21" cy="202.08" r="5.5" fill="#282ea0"/>
<path d="M468.18 198.73l6.7 6.7M468.18 205.43l6.7 -6.7" stroke="#b4b4a2" stroke-width="0.55"/>
<circle cx="482.85" cy="202.08" r="1.8" fill="#fbe07a"/>
<path d="M479.5 198.73l6.7 6.7M479.5 205.43l6.7 -6.7" stroke="#bdb594" stroke-width="0.55"/>
<circle cx="494.17" cy="202.08" r="1.8" fill="#fbe07a"/>
<path d="M490.82 198.73l6.7 6.7M490.82 205.43l6.7 -6.7" stroke="#bdb594" stroke-width="0.55"/>
<path d="M502.14 198.73l6.7 6.7M502.14 205.43l6.7 -6.7" stroke="#b4b4a2" stroke-width="0.55"/>
<circle cx="471.53" cy="213.71" r="5.5" fill="#282ea0"/>
<circle cx="482.85" cy="213.71" r="5.25" fill="#e02026"/>
<circle cx="494.17" cy="213.71" r="5.25" fill="#dc1c2a"/>
<circle cx="505.49" cy="213.71" r="2.75" fill="#bde3f0"/>
<circle cx="482.85" cy="225.34" r="5.5" fill="#282ea0"/>
<circle cx="494.17" cy="225.34" r="5" fill="#2a78bd"/>
<circle cx="505.49" cy="225.34" r="4.5" fill="#f4622e"/>
<circle cx="494.17" cy="236.97" r="5.5" fill="#282ea0"/>
<circle cx="505.49" cy="236.97" r="2.3" fill="#fcd67a"/>
<path d="M502.14 233.62l6.7 6.7M502.14 240.32l6.7 -6.7" stroke="#bdb48e" stroke-width="0.55"/>
<circle cx="505.49" cy="248.6" r="5.5" fill="#282ea0"/>
<rect x="403.06" y="155.01" width="1.1" height="1.1" fill="#c8245e"/>
<rect x="414.38" y="166.64" width="1.1" height="1.1" fill="#c8245e"/>
<rect x="425.7" y="178.27" width="1.1" height="1.1" fill="#c8245e"/>
<rect x="437.02" y="189.9" width="1.1" height="1.1" fill="#c8245e"/>
<rect x="448.34" y="201.53" width="1.1" height="1.1" fill="#c8245e"/>
<rect x="459.66" y="213.16" width="1.1" height="1.1" fill="#c8245e"/>
<rect x="470.98" y="224.79" width="1.1" height="1.1" fill="#c8245e"/>
<rect x="482.3" y="236.42" width="1.1" height="1.1" fill="#c8245e"/>
<rect x="493.62" y="248.05" width="1.1" height="1.1" fill="#c8245e"/>
<rect x="383.45" y="181.05" width="1.1" height="1.1" fill="#c8245e"/>
<text x="382.7" y="183.1" class="nl">Abundance</text>
<rect x="402.25" y="201.75" width="1.1" height="1.1" fill="#c8245e"/>
<text x="401.5" y="203.8" class="nl">Richness</text>
<rect x="420.65" y="222.55" width="1.1" height="1.1" fill="#c8245e"/>
<text x="419.9" y="224.6" class="nl">Simpson_index</text>
<rect x="439.05" y="243.35" width="1.1" height="1.1" fill="#c8245e"/>
<text x="438.3" y="245.4" class="nl">Shannon_Wiener_index</text>
<text x="512.75" y="156.76" class="rl">Longitude</text>
<text x="512.75" y="168.39" class="rl">Latitude</text>
<text x="512.75" y="180.02" class="rl">Altitude</text>
<text x="512.75" y="191.65" class="rl">Distance</text>
<text x="512.75" y="203.28" class="rl">Temperature</text>
<text x="512.75" y="214.91" class="rl">VisBio</text>
<text x="512.75" y="226.54" class="rl">GridCover</text>
<text x="512.75" y="238.17" class="rl">LAI</text>
<text x="512.75" y="249.8" class="rl">MLA</text>
<text transform="translate(415.83 148.34) rotate(-45)" class="cl">X1</text>
<text transform="translate(427.15 148.34) rotate(-45)" class="cl">X2</text>
<text transform="translate(438.47 148.34) rotate(-45)" class="cl">X3</text>
<text transform="translate(449.79 148.34) rotate(-45)" class="cl">X4</text>
<text transform="translate(461.11 148.34) rotate(-45)" class="cl">X5</text>
<text transform="translate(472.43 148.34) rotate(-45)" class="cl">X6</text>
<text transform="translate(483.75 148.34) rotate(-45)" class="cl">X7</text>
<text transform="translate(495.07 148.34) rotate(-45)" class="cl">X8</text>
<text transform="translate(506.39 148.34) rotate(-45)" class="cl">X9</text>
<text x="448.7" y="142.4" class="tt" style="font-size:7.21px" textLength="41.7" lengthAdjust="spacingAndGlyphs">Urban Outskirt</text>
<text x="531.2" y="169.1" class="lgt">Mantel's r</text>
<line x1="531.2" y1="172.5" x2="534.8" y2="172.5" stroke="#aaa" stroke-width="0.4"/>
<text x="536.2" y="173.3" class="lg">&lt; 0.1</text>
<line x1="531.2" y1="177.3" x2="534.8" y2="177.3" stroke="#aaa" stroke-width="0.9"/>
<text x="536.2" y="178.1" class="lg">0.1 - 0.3</text>
<line x1="531.2" y1="181.6" x2="534.8" y2="181.6" stroke="#aaa" stroke-width="1.4"/>
<text x="536.2" y="182.4" class="lg">&gt;= 0.3</text>
<text x="531.2" y="191.6" class="lgt">Mantel's p</text>
<line x1="531.2" y1="195.6" x2="534.8" y2="195.6" stroke="#f07060" stroke-width="0.8"/>
<text x="536.2" y="196.4" class="lg">&lt; 0.01</text>
<line x1="531.2" y1="200" x2="534.8" y2="200" stroke="#f8b8a8" stroke-width="0.8"/>
<text x="536.2" y="200.8" class="lg">0.01 - 0.05</text>
<line x1="531.2" y1="204.3" x2="534.8" y2="204.3" stroke="#d0d0d0" stroke-width="0.8"/>
<text x="536.2" y="205.1" class="lg">&gt;= 0.05</text>
<text x="531.2" y="213.8" class="lgt">Pearson's r</text>
<rect x="531.2" y="215.7" width="4.2" height="21.6" fill="url(#cb)"/>
<text x="536.8" y="216.6" class="lg">1.0</text>
<text x="536.8" y="222" class="lg">0.5</text>
<text x="536.8" y="227.4" class="lg">0.0</text>
<text x="536.8" y="232.8" class="lg">-0.5</text>
<text x="536.8" y="237.8" class="lg">-1.0</text>
<path d="M91.86 286.86h11.19v11.49h-11.19zM103.05 286.86h11.19v11.49h-11.19zM114.23 286.86h11.19v11.49h-11.19zM125.43 286.86h11.19v11.49h-11.19zM136.62 286.86h11.19v11.49h-11.19zM147.81 286.86h11.19v11.49h-11.19zM159 286.86h11.19v11.49h-11.19zM170.19 286.86h11.19v11.49h-11.19zM181.38 286.86h11.19v11.49h-11.19zM103.05 298.35h11.19v11.49h-11.19zM114.23 298.35h11.19v11.49h-11.19zM125.43 298.35h11.19v11.49h-11.19zM136.62 298.35h11.19v11.49h-11.19zM147.81 298.35h11.19v11.49h-11.19zM159 298.35h11.19v11.49h-11.19zM170.19 298.35h11.19v11.49h-11.19zM181.38 298.35h11.19v11.49h-11.19zM114.23 309.84h11.19v11.49h-11.19zM125.43 309.84h11.19v11.49h-11.19zM136.62 309.84h11.19v11.49h-11.19zM147.81 309.84h11.19v11.49h-11.19zM159 309.84h11.19v11.49h-11.19zM170.19 309.84h11.19v11.49h-11.19zM181.38 309.84h11.19v11.49h-11.19zM125.43 321.33h11.19v11.49h-11.19zM136.62 321.33h11.19v11.49h-11.19zM147.81 321.33h11.19v11.49h-11.19zM159 321.33h11.19v11.49h-11.19zM170.19 321.33h11.19v11.49h-11.19zM181.38 321.33h11.19v11.49h-11.19zM136.62 332.81h11.19v11.49h-11.19zM147.81 332.81h11.19v11.49h-11.19zM159 332.81h11.19v11.49h-11.19zM170.19 332.81h11.19v11.49h-11.19zM181.38 332.81h11.19v11.49h-11.19zM147.81 344.31h11.19v11.49h-11.19zM159 344.31h11.19v11.49h-11.19zM170.19 344.31h11.19v11.49h-11.19zM181.38 344.31h11.19v11.49h-11.19zM159 355.8h11.19v11.49h-11.19zM170.19 355.8h11.19v11.49h-11.19zM181.38 355.8h11.19v11.49h-11.19zM170.19 367.29h11.19v11.49h-11.19zM181.38 367.29h11.19v11.49h-11.19zM181.38 378.78h11.19v11.49h-11.19z" fill="none" stroke="#e4e4e4" stroke-width="0.4"/>
<path d="M67.2 317.8L86.26 292.6M67.2 317.8L97.45 304.09M67.2 317.8L108.64 315.58M67.2 317.8L119.83 327.07M67.2 317.8L131.02 338.56M67.2 317.8L142.21 350.05M67.2 317.8L164.59 373.03M67.2 317.8L175.78 384.52M94.6 349L86.26 292.6M94.6 349L97.45 304.09M94.6 349L108.64 315.58M94.6 349L119.83 327.07M94.6 349L131.02 338.56M94.6 349L142.21 350.05M94.6 349L164.59 373.03M94.6 349L175.78 384.52M122.5 379.8L86.26 292.6M122.5 379.8L97.45 304.09M122.5 379.8L108.64 315.58M122.5 379.8L119.83 327.07M122.5 379.8L131.02 338.56M122.5 379.8L142.21 350.05M122.5 379.8L164.59 373.03M122.5 379.8L175.78 384.52" stroke="#bfbfbf" stroke-width="0.4" fill="none"/>
<line x1="67.2" y1="317.8" x2="153.4" y2="361.54" stroke="#f9b090" stroke-width="0.6"/>
<line x1="94.6" y1="349" x2="153.4" y2="361.54" stroke="#f79a72" stroke-width="0.8"/>
<line x1="122.5" y1="379.8" x2="153.4" y2="361.54" stroke="#f79a72" stroke-width="0.8"/>
<circle cx="97.45" cy="292.6" r="5.5" fill="#282ea0"/>
<path d="M105.29 289.25l6.7 6.7M105.29 295.95l6.7 -6.7" stroke="#b4b4a2" stroke-width="0.55"/>
<circle cx="119.83" cy="292.6" r="5" fill="#ef4a2c"/>
<circle cx="131.02" cy="292.6" r="4" fill="#f78a46"/>
<circle cx="142.21" cy="292.6" r="3.4" fill="#fbab4c"/>
<circle cx="153.4" cy="292.6" r="3" fill="#92d6ee"/>
<circle cx="164.59" cy="292.6" r="3.6" fill="#f9a44e"/>
<circle cx="175.78" cy="292.6" r="2.9" fill="#fcb450"/>
<circle cx="186.97" cy="292.6" r="3.1" fill="#92d6ee"/>
<circle cx="108.64" cy="304.09" r="5.5" fill="#282ea0"/>
<circle cx="119.83" cy="304.09" r="2.3" fill="#fcd67a"/>
<path d="M116.48 300.74l6.7 6.7M116.48 307.44l6.7 -6.7" stroke="#bdb48e" stroke-width="0.55"/>
<circle cx="131.02" cy="304.09" r="2.5" fill="#d8f0f6"/>
<path d="M127.67 300.74l6.7 6.7M127.67 307.44l6.7 -6.7" stroke="#9dbcc4" stroke-width="0.55"/>
<circle cx="142.21" cy="304.09" r="4.75" fill="#2276c4"/>
<path d="M150.05 300.74l6.7 6.7M150.05 307.44l6.7 -6.7" stroke="#b4b4a2" stroke-width="0.55"/>
<path d="M161.24 300.74l6.7 6.7M161.24 307.44l6.7 -6.7" stroke="#b4b4a2" stroke-width="0.55"/>
<path d="M172.43 300.74l6.7 6.7M172.43 307.44l6.7 -6.7" stroke="#b4b4a2" stroke-width="0.55"/>
<circle cx="186.97" cy="304.09" r="2.3" fill="#fcd67a"/>
<path d="M183.62 300.74l6.7 6.7M183.62 307.44l6.7 -6.7" stroke="#bdb48e" stroke-width="0.55"/>
<circle cx="119.83" cy="315.58" r="5.5" fill="#282ea0"/>
<circle cx="131.02" cy="315.58" r="3.4" fill="#92d6ee"/>
<circle cx="142.21" cy="315.58" r="2.5" fill="#d8f0f6"/>
<path d="M138.86 312.23l6.7 6.7M138.86 318.93l6.7 -6.7" stroke="#9dbcc4" stroke-width="0.55"/>
<circle cx="153.4" cy="315.58" r="3.5" fill="#f9a848"/>
<circle cx="164.59" cy="315.58" r="3.5" fill="#80c8e4"/>
<circle cx="175.78" cy="315.58" r="3.1" fill="#98d8ee"/>
<circle cx="186.97" cy="315.58" r="3.3" fill="#fbaa4e"/>
<circle cx="131.02" cy="327.07" r="5.5" fill="#282ea0"/>
<circle cx="142.21" cy="327.07" r="2.5" fill="#d8f0f6"/>
<path d="M138.86 323.72l6.7 6.7M138.86 330.42l6.7 -6.7" stroke="#9dbcc4" stroke-width="0.55"/>
<circle cx="153.4" cy="327.07" r="2.7" fill="#fcb450"/>
<circle cx="164.59" cy="327.07" r="3.5" fill="#80c8e4"/>
<circle cx="175.78" cy="327.07" r="2.5" fill="#d8f0f6"/>
<path d="M172.43 323.72l6.7 6.7M172.43 330.42l6.7 -6.7" stroke="#9dbcc4" stroke-width="0.55"/>
<circle cx="186.97" cy="327.07" r="4" fill="#f67c3c"/>
<circle cx="142.21" cy="338.56" r="5.5" fill="#282ea0"/>
<circle cx="153.4" cy="338.56" r="1.8" fill="#fbe07a"/>
<path d="M150.05 335.21l6.7 6.7M150.05 341.91l6.7 -6.7" stroke="#bdb594" stroke-width="0.55"/>
<circle cx="164.59" cy="338.56" r="2.5" fill="#d8f0f6"/>
<path d="M161.24 335.21l6.7 6.7M161.24 341.91l6.7 -6.7" stroke="#9dbcc4" stroke-width="0.55"/>
<path d="M172.43 335.21l6.7 6.7M172.43 341.91l6.7 -6.7" stroke="#b4b4a2" stroke-width="0.55"/>
<circle cx="186.97" cy="338.56" r="2.3" fill="#fcd67a"/>
<path d="M183.62 335.21l6.7 6.7M183.62 341.91l6.7 -6.7" stroke="#bdb48e" stroke-width="0.55"/>
<circle cx="153.4" cy="350.05" r="5.5" fill="#282ea0"/>
<circle cx="164.59" cy="350.05" r="5.25" fill="#ee201c"/>
<circle cx="175.78" cy="350.05" r="5.4" fill="#d4121e"/>
<circle cx="186.97" cy="350.05" r="2.5" fill="#d8f0f6"/>
<path d="M183.62 346.7l6.7 6.7M183.62 353.4l6.7 -6.7" stroke="#9dbcc4" stroke-width="0.55"/>
<circle cx="164.59" cy="361.54" r="5.5" fill="#282ea0"/>
<circle cx="175.78" cy="361.54" r="5.25" fill="#2068c0"/>
<circle cx="186.97" cy="361.54" r="4.5" fill="#fc5626"/>
<circle cx="175.78" cy="373.03" r="5.5" fill="#282ea0"/>
<circle cx="186.97" cy="373.03" r="2.3" fill="#fcd67a"/>
<path d="M183.62 369.68l6.7 6.7M183.62 376.38l6.7 -6.7" stroke="#bdb48e" stroke-width="0.55"/>
<circle cx="186.97" cy="384.52" r="5.5" fill="#282ea0"/>
<rect x="85.71" y="292.05" width="1.1" height="1.1" fill="#c8245e"/>
<rect x="96.9" y="303.54" width="1.1" height="1.1" fill="#c8245e"/>
<rect x="108.09" y="315.03" width="1.1" height="1.1" fill="#c8245e"/>
<rect x="119.28" y="326.52" width="1.1" height="1.1" fill="#c8245e"/>
<rect x="130.47" y="338.01" width="1.1" height="1.1" fill="#c8245e"/>
<rect x="141.66" y="349.5" width="1.1" height="1.1" fill="#c8245e"/>
<rect x="152.85" y="360.99" width="1.1" height="1.1" fill="#c8245e"/>
<rect x="164.04" y="372.48" width="1.1" height="1.1" fill="#c8245e"/>
<rect x="175.23" y="383.97" width="1.1" height="1.1" fill="#c8245e"/>
<rect x="66.65" y="317.25" width="1.1" height="1.1" fill="#c8245e"/>
<text x="65.9" y="319.3" class="nl">Richness</text>
<rect x="94.05" y="348.45" width="1.1" height="1.1" fill="#c8245e"/>
<text x="93.3" y="350.5" class="nl">Simpson_index</text>
<rect x="121.95" y="379.25" width="1.1" height="1.1" fill="#c8245e"/>
<text x="121.2" y="381.3" class="nl">Shannon_Wiener_index</text>
<text x="194.16" y="293.8" class="rl">Longitude</text>
<text x="194.16" y="305.29" class="rl">Latitude</text>
<text x="194.16" y="316.78" class="rl">Altitude</text>
<text x="194.16" y="328.27" class="rl">Distance</text>
<text x="194.16" y="339.76" class="rl">Temperature</text>
<text x="194.16" y="351.25" class="rl">VisBio</text>
<text x="194.16" y="362.74" class="rl">GridCover</text>
<text x="194.16" y="374.23" class="rl">LAI</text>
<text x="194.16" y="385.72" class="rl">MLA</text>
<text transform="translate(98.35 285.46) rotate(-45)" class="cl">Longitude</text>
<text transform="translate(109.54 285.46) rotate(-45)" class="cl">Latitude</text>
<text transform="translate(120.73 285.46) rotate(-45)" class="cl">Altitude</text>
<text transform="translate(131.92 285.46) rotate(-45)" class="cl">Distance</text>
<text transform="translate(143.11 285.46) rotate(-45)" class="cl">Temperature</text>
<text transform="translate(154.3 285.46) rotate(-45)" class="cl">VisBio</text>
<text transform="translate(165.49 285.46) rotate(-45)" class="cl">GridCover</text>
<text transform="translate(176.68 285.46) rotate(-45)" class="cl">LAI</text>
<text transform="translate(187.87 285.46) rotate(-45)" class="cl">MLA</text>
<text x="130.5" y="271.5" class="tt" style="font-size:6.46px" textLength="34.2" lengthAdjust="spacingAndGlyphs">Urban Center</text>
<path d="M250.85 286.64h11.2v11.51h-11.2zM262.05 286.64h11.2v11.51h-11.2zM273.25 286.64h11.2v11.51h-11.2zM284.45 286.64h11.2v11.51h-11.2zM295.65 286.64h11.2v11.51h-11.2zM306.85 286.64h11.2v11.51h-11.2zM318.05 286.64h11.2v11.51h-11.2zM329.25 286.64h11.2v11.51h-11.2zM340.45 286.64h11.2v11.51h-11.2zM262.05 298.15h11.2v11.51h-11.2zM273.25 298.15h11.2v11.51h-11.2zM284.45 298.15h11.2v11.51h-11.2zM295.65 298.15h11.2v11.51h-11.2zM306.85 298.15h11.2v11.51h-11.2zM318.05 298.15h11.2v11.51h-11.2zM329.25 298.15h11.2v11.51h-11.2zM340.45 298.15h11.2v11.51h-11.2zM273.25 309.66h11.2v11.51h-11.2zM284.45 309.66h11.2v11.51h-11.2zM295.65 309.66h11.2v11.51h-11.2zM306.85 309.66h11.2v11.51h-11.2zM318.05 309.66h11.2v11.51h-11.2zM329.25 309.66h11.2v11.51h-11.2zM340.45 309.66h11.2v11.51h-11.2zM284.45 321.17h11.2v11.51h-11.2zM295.65 321.17h11.2v11.51h-11.2zM306.85 321.17h11.2v11.51h-11.2zM318.05 321.17h11.2v11.51h-11.2zM329.25 321.17h11.2v11.51h-11.2zM340.45 321.17h11.2v11.51h-11.2zM295.65 332.69h11.2v11.51h-11.2zM306.85 332.69h11.2v11.51h-11.2zM318.05 332.69h11.2v11.51h-11.2zM329.25 332.69h11.2v11.51h-11.2zM340.45 332.69h11.2v11.51h-11.2zM306.85 344.19h11.2v11.51h-11.2zM318.05 344.19h11.2v11.51h-11.2zM329.25 344.19h11.2v11.51h-11.2zM340.45 344.19h11.2v11.51h-11.2zM318.05 355.7h11.2v11.51h-11.2zM329.25 355.7h11.2v11.51h-11.2zM340.45 355.7h11.2v11.51h-11.2zM329.25 367.21h11.2v11.51h-11.2zM340.45 367.21h11.2v11.51h-11.2zM340.45 378.72h11.2v11.51h-11.2z" fill="none" stroke="#e4e4e4" stroke-width="0.4"/>
<path d="M226 317.2L256.45 303.91M226 317.2L267.65 315.42M226 317.2L278.85 326.93M226 317.2L290.05 338.44M226 317.2L312.45 361.46M239.9 333.2L245.25 292.4M239.9 333.2L256.45 303.91M239.9 333.2L267.65 315.42M239.9 333.2L278.85 326.93M239.9 333.2L290.05 338.44M239.9 333.2L312.45 361.46M239.9 333.2L323.65 372.97M253.6 349L256.45 303.91M253.6 349L267.65 315.42M253.6 349L278.85 326.93M253.6 349L290.05 338.44M253.6 349L301.25 349.95M253.6 349L312.45 361.46M253.6 349L323.65 372.97M267.5 364.4L256.45 303.91M267.5 364.4L267.65 315.42M267.5 364.4L278.85 326.93M267.5 364.4L290.05 338.44M267.5 364.4L301.25 349.95M267.5 364.4L312.45 361.46M267.5 364.4L334.85 384.48M281.2 380.4L256.45 303.91M281.2 380.4L267.65 315.42M281.2 380.4L278.85 326.93M281.2 380.4L290.05 338.44M281.2 380.4L301.25 349.95M281.2 380.4L312.45 361.46M281.2 380.4L323.65 372.97M281.2 380.4L334.85 384.48" stroke="#bfbfbf" stroke-width="0.4" fill="none"/>
<line x1="253.6" y1="349" x2="245.25" y2="292.4" stroke="#fbc0a8" stroke-width="0.5"/>
<line x1="267.5" y1="364.4" x2="245.25" y2="292.4" stroke="#fbc0a8" stroke-width="0.5"/>
<line x1="281.2" y1="380.4" x2="245.25" y2="292.4" stroke="#fbc0a8" stroke-width="0.5"/>
<line x1="239.9" y1="333.2" x2="301.25" y2="349.95" stroke="#f9a888" stroke-width="0.7"/>
<line x1="239.9" y1="333.2" x2="334.85" y2="384.48" stroke="#f9a888" stroke-width="0.7"/>
<line x1="253.6" y1="349" x2="334.85" y2="384.48" stroke="#f9a888" stroke-width="0.7"/>
<line x1="267.5" y1="364.4" x2="323.65" y2="372.97" stroke="#f9a888" stroke-width="0.7"/>
<line x1="226" y1="317.2" x2="301.25" y2="349.95" stroke="#f79a72" stroke-width="0.8"/>
<line x1="226" y1="317.2" x2="323.65" y2="372.97" stroke="#f79a72" stroke-width="0.8"/>
<line x1="226" y1="317.2" x2="334.85" y2="384.48" stroke="#f79a72" stroke-width="0.8"/>
<line x1="226" y1="317.2" x2="245.25" y2="292.4" stroke="#f06a4a" stroke-width="1.1"/>
<circle cx="256.45" cy="292.4" r="5.5" fill="#282ea0"/>
<circle cx="267.65" cy="292.4" r="2.9" fill="#b5e2f0"/>
<circle cx="278.85" cy="292.4" r="5" fill="#ea2424"/>
<circle cx="290.05" cy="292.4" r="4" fill="#f4803c"/>
<path d="M297.9 289.05l6.7 6.7M297.9 295.75l6.7 -6.7" stroke="#b4b4a2" stroke-width="0.55"/>
<circle cx="312.45" cy="292.4" r="3.2" fill="#8cd2ec"/>
<circle cx="323.65" cy="292.4" r="3.2" fill="#fbb05a"/>
<circle cx="334.85" cy="292.4" r="3.4" fill="#f9a04a"/>
<path d="M342.7 289.05l6.7 6.7M342.7 295.75l6.7 -6.7" stroke="#b4b4a2" stroke-width="0.55"/>
<circle cx="267.65" cy="303.91" r="5.5" fill="#282ea0"/>
<circle cx="278.85" cy="303.91" r="3" fill="#fbb35e"/>
<circle cx="290.05" cy="303.91" r="3.75" fill="#6ebfdf"/>
<circle cx="301.25" cy="303.91" r="1.8" fill="#fbe07a"/>
<path d="M297.9 300.56l6.7 6.7M297.9 307.26l6.7 -6.7" stroke="#bdb594" stroke-width="0.55"/>
<path d="M309.1 300.56l6.7 6.7M309.1 307.26l6.7 -6.7" stroke="#b4b4a2" stroke-width="0.55"/>
<circle cx="323.65" cy="303.91" r="1.8" fill="#fbe07a"/>
<path d="M320.3 300.56l6.7 6.7M320.3 307.26l6.7 -6.7" stroke="#bdb594" stroke-width="0.55"/>
<circle cx="334.85" cy="303.91" r="2.6" fill="#fcd468"/>
<path d="M331.5 300.56l6.7 6.7M331.5 307.26l6.7 -6.7" stroke="#bdb48e" stroke-width="0.55"/>
<path d="M342.7 300.56l6.7 6.7M342.7 307.26l6.7 -6.7" stroke="#b4b4a2" stroke-width="0.55"/>
<circle cx="278.85" cy="315.42" r="5.5" fill="#282ea0"/>
<circle cx="290.05" cy="315.42" r="3" fill="#bfe6f2"/>
<path d="M297.9 312.07l6.7 6.7M297.9 318.77l6.7 -6.7" stroke="#b4b4a2" stroke-width="0.55"/>
<circle cx="312.45" cy="315.42" r="2.3" fill="#fcd67a"/>
<path d="M309.1 312.07l6.7 6.7M309.1 318.77l6.7 -6.7" stroke="#bdb48e" stroke-width="0.55"/>
<path d="M320.3 312.07l6.7 6.7M320.3 318.77l6.7 -6.7" stroke="#b4b4a2" stroke-width="0.55"/>
<circle cx="334.85" cy="315.42" r="2.5" fill="#d8f0f6"/>
<path d="M331.5 312.07l6.7 6.7M331.5 318.77l6.7 -6.7" stroke="#9dbcc4" stroke-width="0.55"/>
<path d="M342.7 312.07l6.7 6.7M342.7 318.77l6.7 -6.7" stroke="#b4b4a2" stroke-width="0.55"/>
<circle cx="290.05" cy="326.93" r="5.5" fill="#282ea0"/>
<circle cx="301.25" cy="326.93" r="3.5" fill="#f4823a"/>
<circle cx="312.45" cy="326.93" r="2.3" fill="#fcd67a"/>
<path d="M309.1 323.58l6.7 6.7M309.1 330.28l6.7 -6.7" stroke="#bdb48e" stroke-width="0.55"/>
<circle cx="323.65" cy="326.93" r="2.5" fill="#d8f0f6"/>
<path d="M320.3 323.58l6.7 6.7M320.3 330.28l6.7 -6.7" stroke="#9dbcc4" stroke-width="0.55"/>
<circle cx="334.85" cy="326.93" r="2.5" fill="#d8f0f6"/>
<path d="M331.5 323.58l6.7 6.7M331.5 330.28l6.7 -6.7" stroke="#9dbcc4" stroke-width="0.55"/>
<circle cx="346.05" cy="326.93" r="1.8" fill="#fbe07a"/>
<path d="M342.7 323.58l6.7 6.7M342.7 330.28l6.7 -6.7" stroke="#bdb594" stroke-width="0.55"/>
<circle cx="301.25" cy="338.44" r="5.5" fill="#282ea0"/>
<path d="M309.1 335.09l6.7 6.7M309.1 341.79l6.7 -6.7" stroke="#b4b4a2" stroke-width="0.55"/>
<circle cx="323.65" cy="338.44" r="1.8" fill="#fbe07a"/>
<path d="M320.3 335.09l6.7 6.7M320.3 341.79l6.7 -6.7" stroke="#bdb594" stroke-width="0.55"/>
<circle cx="334.85" cy="338.44" r="1.8" fill="#fbe07a"/>
<path d="M331.5 335.09l6.7 6.7M331.5 341.79l6.7 -6.7" stroke="#bdb594" stroke-width="0.55"/>
<path d="M342.7 335.09l6.7 6.7M342.7 341.79l6.7 -6.7" stroke="#b4b4a2" stroke-width="0.55"/>
<circle cx="312.45" cy="349.95" r="5.5" fill="#282ea0"/>
<circle cx="323.65" cy="349.95" r="5.4" fill="#d2121e"/>
<circle cx="334.85" cy="349.95" r="5.4" fill="#d2121e"/>
<circle cx="346.05" cy="349.95" r="3.5" fill="#86cce6"/>
<circle cx="323.65" cy="361.46" r="5.5" fill="#282ea0"/>
<circle cx="334.85" cy="361.46" r="5.25" fill="#2b5eab"/>
<circle cx="346.05" cy="361.46" r="4.75" fill="#fd5a26"/>
<circle cx="334.85" cy="372.97" r="5.5" fill="#282ea0"/>
<circle cx="346.05" cy="372.97" r="3.5" fill="#fca95a"/>
<circle cx="346.05" cy="384.48" r="5.5" fill="#282ea0"/>
<rect x="244.7" y="291.85" width="1.1" height="1.1" fill="#c8245e"/>
<rect x="255.9" y="303.36" width="1.1" height="1.1" fill="#c8245e"/>
<rect x="267.1" y="314.87" width="1.1" height="1.1" fill="#c8245e"/>
<rect x="278.3" y="326.38" width="1.1" height="1.1" fill="#c8245e"/>
<rect x="289.5" y="337.89" width="1.1" height="1.1" fill="#c8245e"/>
<rect x="300.7" y="349.4" width="1.1" height="1.1" fill="#c8245e"/>
<rect x="311.9" y="360.91" width="1.1" height="1.1" fill="#c8245e"/>
<rect x="323.1" y="372.42" width="1.1" height="1.1" fill="#c8245e"/>
<rect x="334.3" y="383.93" width="1.1" height="1.1" fill="#c8245e"/>
<rect x="225.45" y="316.65" width="1.1" height="1.1" fill="#c8245e"/>
<text x="224.7" y="318.7" class="nl">Abundance</text>
<rect x="239.35" y="332.65" width="1.1" height="1.1" fill="#c8245e"/>
<text x="238.6" y="334.7" class="nl">Richness</text>
<rect x="253.05" y="348.45" width="1.1" height="1.1" fill="#c8245e"/>
<text x="252.3" y="350.5" class="nl">Simpson_index</text>
<rect x="266.95" y="363.85" width="1.1" height="1.1" fill="#c8245e"/>
<text x="266.2" y="365.9" class="nl">Shannon_Wiener_index</text>
<rect x="280.65" y="379.85" width="1.1" height="1.1" fill="#c8245e"/>
<text x="279.9" y="381.9" class="nl">Evenness_index</text>
<text x="353.25" y="293.6" class="rl">Longitude</text>
<text x="353.25" y="305.11" class="rl">Latitude</text>
<text x="353.25" y="316.62" class="rl">Altitude</text>
<text x="353.25" y="328.13" class="rl">Distance</text>
<text x="353.25" y="339.64" class="rl">Temperature</text>
<text x="353.25" y="351.15" class="rl">VisBio</text>
<text x="353.25" y="362.66" class="rl">GridCover</text>
<text x="353.25" y="374.17" class="rl">LAI</text>
<text x="353.25" y="385.68" class="rl">MLA</text>
<text transform="translate(257.35 285.25) rotate(-45)" class="cl">Longitude</text>
<text transform="translate(268.55 285.25) rotate(-45)" class="cl">Latitude</text>
<text transform="translate(279.75 285.25) rotate(-45)" class="cl">Altitude</text>
<text transform="translate(290.95 285.25) rotate(-45)" class="cl">Distance</text>
<text transform="translate(302.15 285.25) rotate(-45)" class="cl">Temperature</text>
<text transform="translate(313.35 285.25) rotate(-45)" class="cl">VisBio</text>
<text transform="translate(324.55 285.25) rotate(-45)" class="cl">GridCover</text>
<text transform="translate(335.75 285.25) rotate(-45)" class="cl">LAI</text>
<text transform="translate(346.95 285.25) rotate(-45)" class="cl">MLA</text>
<text x="286.9" y="271.5" class="tt" style="font-size:6.58px" textLength="36.2" lengthAdjust="spacingAndGlyphs">Urban Suburb</text>
<path d="M407.85 286.75h11.18v11.51h-11.18zM419.03 286.75h11.18v11.51h-11.18zM430.21 286.75h11.18v11.51h-11.18zM441.39 286.75h11.18v11.51h-11.18zM452.57 286.75h11.18v11.51h-11.18zM463.75 286.75h11.18v11.51h-11.18zM474.93 286.75h11.18v11.51h-11.18zM486.11 286.75h11.18v11.51h-11.18zM497.29 286.75h11.18v11.51h-11.18zM419.03 298.25h11.18v11.51h-11.18zM430.21 298.25h11.18v11.51h-11.18zM441.39 298.25h11.18v11.51h-11.18zM452.57 298.25h11.18v11.51h-11.18zM463.75 298.25h11.18v11.51h-11.18zM474.93 298.25h11.18v11.51h-11.18zM486.11 298.25h11.18v11.51h-11.18zM497.29 298.25h11.18v11.51h-11.18zM430.21 309.76h11.18v11.51h-11.18zM441.39 309.76h11.18v11.51h-11.18zM452.57 309.76h11.18v11.51h-11.18zM463.75 309.76h11.18v11.51h-11.18zM474.93 309.76h11.18v11.51h-11.18zM486.11 309.76h11.18v11.51h-11.18zM497.29 309.76h11.18v11.51h-11.18zM441.39 321.27h11.18v11.51h-11.18zM452.57 321.27h11.18v11.51h-11.18zM463.75 321.27h11.18v11.51h-11.18zM474.93 321.27h11.18v11.51h-11.18zM486.11 321.27h11.18v11.51h-11.18zM497.29 321.27h11.18v11.51h-11.18zM452.57 332.79h11.18v11.51h-11.18zM463.75 332.79h11.18v11.51h-11.18zM474.93 332.79h11.18v11.51h-11.18zM486.11 332.79h11.18v11.51h-11.18zM497.29 332.79h11.18v11.51h-11.18zM463.75 344.3h11.18v11.51h-11.18zM474.93 344.3h11.18v11.51h-11.18zM486.11 344.3h11.18v11.51h-11.18zM497.29 344.3h11.18v11.51h-11.18zM474.93 355.81h11.18v11.51h-11.18zM486.11 355.81h11.18v11.51h-11.18zM497.29 355.81h11.18v11.51h-11.18zM486.11 367.31h11.18v11.51h-11.18zM497.29 367.31h11.18v11.51h-11.18zM497.29 378.82h11.18v11.51h-11.18z" fill="none" stroke="#e4e4e4" stroke-width="0.4"/>
<path d="M383 317.2L402.26 292.5M383 317.2L413.44 304.01M383 317.2L424.62 315.52M383 317.2L446.98 338.54M383 317.2L458.16 350.05M383 317.2L469.34 361.56M383 317.2L480.52 373.07M383 317.2L491.7 384.58M410.1 349L402.26 292.5M410.1 349L413.44 304.01M410.1 349L424.62 315.52M410.1 349L435.8 327.03M410.1 349L446.98 338.54M410.1 349L458.16 350.05M410.1 349L469.34 361.56M410.1 349L491.7 384.58M437.7 380.4L402.26 292.5M437.7 380.4L413.44 304.01M437.7 380.4L424.62 315.52M437.7 380.4L435.8 327.03M437.7 380.4L458.16 350.05M437.7 380.4L469.34 361.56M437.7 380.4L480.52 373.07M437.7 380.4L491.7 384.58" stroke="#bfbfbf" stroke-width="0.4" fill="none"/>
<line x1="383" y1="317.2" x2="435.8" y2="327.03" stroke="#f79a72" stroke-width="0.7"/>
<line x1="410.1" y1="349" x2="480.52" y2="373.07" stroke="#f79a72" stroke-width="0.7"/>
<line x1="437.7" y1="380.4" x2="446.98" y2="338.54" stroke="#f79a72" stroke-width="0.7"/>
<circle cx="413.44" cy="292.5" r="5.5" fill="#282ea0"/>
<circle cx="424.62" cy="292.5" r="3" fill="#92d6ee"/>
<circle cx="435.8" cy="292.5" r="4.9" fill="#f43f2a"/>
<circle cx="446.98" cy="292.5" r="3.75" fill="#fba050"/>
<circle cx="458.16" cy="292.5" r="4" fill="#6cbfe0"/>
<circle cx="469.34" cy="292.5" r="2.5" fill="#d8f0f6"/>
<path d="M465.99 289.15l6.7 6.7M465.99 295.85l6.7 -6.7" stroke="#9dbcc4" stroke-width="0.55"/>
<circle cx="480.52" cy="292.5" r="2.3" fill="#fcd67a"/>
<path d="M477.17 289.15l6.7 6.7M477.17 295.85l6.7 -6.7" stroke="#bdb48e" stroke-width="0.55"/>
<circle cx="491.7" cy="292.5" r="2.3" fill="#fcd67a"/>
<path d="M488.35 289.15l6.7 6.7M488.35 295.85l6.7 -6.7" stroke="#bdb48e" stroke-width="0.55"/>
<circle cx="502.88" cy="292.5" r="1.8" fill="#fbe07a"/>
<path d="M499.53 289.15l6.7 6.7M499.53 295.85l6.7 -6.7" stroke="#bdb594" stroke-width="0.55"/>
<circle cx="424.62" cy="304.01" r="5.5" fill="#282ea0"/>
<circle cx="435.8" cy="304.01" r="4" fill="#f98c40"/>
<circle cx="446.98" cy="304.01" r="2.9" fill="#b5e2ef"/>
<circle cx="458.16" cy="304.01" r="3.25" fill="#92d6ee"/>
<circle cx="469.34" cy="304.01" r="2.5" fill="#d8f0f6"/>
<path d="M465.99 300.66l6.7 6.7M465.99 307.36l6.7 -6.7" stroke="#9dbcc4" stroke-width="0.55"/>
<circle cx="480.52" cy="304.01" r="2.3" fill="#fcd67a"/>
<path d="M477.17 300.66l6.7 6.7M477.17 307.36l6.7 -6.7" stroke="#bdb48e" stroke-width="0.55"/>
<circle cx="491.7" cy="304.01" r="2.3" fill="#fcd67a"/>
<path d="M488.35 300.66l6.7 6.7M488.35 307.36l6.7 -6.7" stroke="#bdb48e" stroke-width="0.55"/>
<path d="M499.53 300.66l6.7 6.7M499.53 307.36l6.7 -6.7" stroke="#b4b4a2" stroke-width="0.55"/>
<circle cx="435.8" cy="315.52" r="5.5" fill="#282ea0"/>
<circle cx="446.98" cy="315.52" r="3.4" fill="#92d6ee"/>
<circle cx="458.16" cy="315.52" r="4.35" fill="#f47038"/>
<circle cx="469.34" cy="315.52" r="1.8" fill="#fbe07a"/>
<path d="M465.99 312.17l6.7 6.7M465.99 318.87l6.7 -6.7" stroke="#bdb594" stroke-width="0.55"/>
<path d="M477.17 312.17l6.7 6.7M477.17 318.87l6.7 -6.7" stroke="#b4b4a2" stroke-width="0.55"/>
<path d="M488.35 312.17l6.7 6.7M488.35 318.87l6.7 -6.7" stroke="#b4b4a2" stroke-width="0.55"/>
<circle cx="502.88" cy="315.52" r="2.5" fill="#d8f0f6"/>
<path d="M499.53 312.17l6.7 6.7M499.53 318.87l6.7 -6.7" stroke="#9dbcc4" stroke-width="0.55"/>
<circle cx="446.98" cy="327.03" r="5.5" fill="#282ea0"/>
<circle cx="458.16" cy="327.03" r="3.6" fill="#fa9a48"/>
<path d="M465.99 323.68l6.7 6.7M465.99 330.38l6.7 -6.7" stroke="#b4b4a2" stroke-width="0.55"/>
<path d="M477.17 323.68l6.7 6.7M477.17 330.38l6.7 -6.7" stroke="#b4b4a2" stroke-width="0.55"/>
<path d="M488.35 323.68l6.7 6.7M488.35 330.38l6.7 -6.7" stroke="#b4b4a2" stroke-width="0.55"/>
<path d="M499.53 323.68l6.7 6.7M499.53 330.38l6.7 -6.7" stroke="#b4b4a2" stroke-width="0.55"/>
<circle cx="458.16" cy="338.54" r="5.5" fill="#282ea0"/>
<path d="M465.99 335.19l6.7 6.7M465.99 341.89l6.7 -6.7" stroke="#b4b4a2" stroke-width="0.55"/>
<circle cx="480.52" cy="338.54" r="1.8" fill="#fbe07a"/>
<path d="M477.17 335.19l6.7 6.7M477.17 341.89l6.7 -6.7" stroke="#bdb594" stroke-width="0.55"/>
<circle cx="491.7" cy="338.54" r="1.8" fill="#fbe07a"/>
<path d="M488.35 335.19l6.7 6.7M488.35 341.89l6.7 -6.7" stroke="#bdb594" stroke-width="0.55"/>
<path d="M499.53 335.19l6.7 6.7M499.53 341.89l6.7 -6.7" stroke="#b4b4a2" stroke-width="0.55"/>
<circle cx="469.34" cy="350.05" r="5.5" fill="#282ea0"/>
<circle cx="480.52" cy="350.05" r="5.25" fill="#e02026"/>
<circle cx="491.7" cy="350.05" r="5.25" fill="#dc1c2a"/>
<circle cx="502.88" cy="350.05" r="2.75" fill="#bde3f0"/>
<circle cx="480.52" cy="361.56" r="5.5" fill="#282ea0"/>
<circle cx="491.7" cy="361.56" r="5" fill="#2a78bd"/>
<circle cx="502.88" cy="361.56" r="4.5" fill="#f4622e"/>
<circle cx="491.7" cy="373.07" r="5.5" fill="#282ea0"/>
<circle cx="502.88" cy="373.07" r="2.3" fill="#fcd67a"/>
<path d="M499.53 369.72l6.7 6.7M499.53 376.42l6.7 -6.7" stroke="#bdb48e" stroke-width="0.55"/>
<circle cx="502.88" cy="384.58" r="5.5" fill="#282ea0"/>
<rect x="401.71" y="291.95" width="1.1" height="1.1" fill="#c8245e"/>
<rect x="412.89" y="303.46" width="1.1" height="1.1" fill="#c8245e"/>
<rect x="424.07" y="314.97" width="1.1" height="1.1" fill="#c8245e"/>
<rect x="435.25" y="326.48" width="1.1" height="1.1" fill="#c8245e"/>
<rect x="446.43" y="337.99" width="1.1" height="1.1" fill="#c8245e"/>
<rect x="457.61" y="349.5" width="1.1" height="1.1" fill="#c8245e"/>
<rect x="468.79" y="361.01" width="1.1" height="1.1" fill="#c8245e"/>
<rect x="479.97" y="372.52" width="1.1" height="1.1" fill="#c8245e"/>
<rect x="491.15" y="384.03" width="1.1" height="1.1" fill="#c8245e"/>
<rect x="382.45" y="316.65" width="1.1" height="1.1" fill="#c8245e"/>
<text x="381.7" y="318.7" class="nl">Richness</text>
<rect x="409.55" y="348.45" width="1.1" height="1.1" fill="#c8245e"/>
<text x="408.8" y="350.5" class="nl">Simpson_index</text>
<rect x="437.15" y="379.85" width="1.1" height="1.1" fill="#c8245e"/>
<text x="436.4" y="381.9" class="nl">Evenness_index</text>
<text x="510.07" y="293.7" class="rl">Longitude</text>
<text x="510.07" y="305.21" class="rl">Latitude</text>
<text x="510.07" y="316.72" class="rl">Altitude</text>
<text x="510.07" y="328.23" class="rl">Distance</text>
<text x="510.07" y="339.74" class="rl">Temperature</text>
<text x="510.07" y="351.25" class="rl">VisBio</text>
<text x="510.07" y="362.76" class="rl">GridCover</text>
<text x="510.07" y="374.27" class="rl">LAI</text>
<text x="510.07" y="385.78" class="rl">MLA</text>
<text transform="translate(414.34 285.35) rotate(-45)" class="cl">Longitude</text>
<text transform="translate(425.52 285.35) rotate(-45)" class="cl">Latitude</text>
<text transform="translate(436.7 285.35) rotate(-45)" class="cl">Altitude</text>
<text transform="translate(447.88 285.35) rotate(-45)" class="cl">Distance</text>
<text transform="translate(459.06 285.35) rotate(-45)" class="cl">Temperature</text>
<text transform="translate(470.24 285.35) rotate(-45)" class="cl">VisBio</text>
<text transform="translate(481.42 285.35) rotate(-45)" class="cl">GridCover</text>
<text transform="translate(492.6 285.35) rotate(-45)" class="cl">LAI</text>
<text transform="translate(503.78 285.35) rotate(-45)" class="cl">MLA</text>
<text x="446.6" y="271.2" class="tt" style="font-size:6.69px" textLength="38.7" lengthAdjust="spacingAndGlyphs">Urban Outskirt</text>
<text x="528.4" y="309.9" class="lgt">Mantel's r</text>
<line x1="528.4" y1="313.6" x2="532" y2="313.6" stroke="#aaa" stroke-width="0.4"/>
<text x="533.4" y="314.4" class="lg">&lt; 0.1</text>
<line x1="528.4" y1="318.4" x2="532" y2="318.4" stroke="#aaa" stroke-width="0.9"/>
<text x="533.4" y="319.2" class="lg">0.1 - 0.3</text>
<text x="528.4" y="328.3" class="lgt">Mantel's p</text>
<line x1="528.4" y1="332" x2="532" y2="332" stroke="#f8b8a8" stroke-width="0.8"/>
<text x="533.4" y="332.8" class="lg">0.01 - 0.05</text>
<line x1="528.4" y1="336.3" x2="532" y2="336.3" stroke="#d0d0d0" stroke-width="0.8"/>
<text x="533.4" y="337.1" class="lg">&gt;= 0.05</text>
<text x="528.4" y="345.6" class="lgt">Pearson's r</text>
<rect x="528.4" y="347" width="4.2" height="22.1" fill="url(#cb)"/>
<text x="534" y="347.9" class="lg">1.0</text>
<text x="534" y="353.42" class="lg">0.5</text>
<text x="534" y="358.95" class="lg">0.0</text>
<text x="534" y="364.48" class="lg">-0.5</text>
<text x="534" y="369.6" class="lg">-1.0</text>
<text x="3.4" y="10.6" class="hd" style="font-size:8.8px" textLength="52.4" lengthAdjust="spacing">(a) All Plant</text>
<text x="2.8" y="140.4" class="hd" style="font-size:9.2px" textLength="72.1" lengthAdjust="spacing">(b) Woody Plant</text>
<text x="2.3" y="269.4" class="hd" style="font-size:8.9px" textLength="91.8" lengthAdjust="spacing">(c)Herbaceous Plant</text>
</svg>
</body></html>
